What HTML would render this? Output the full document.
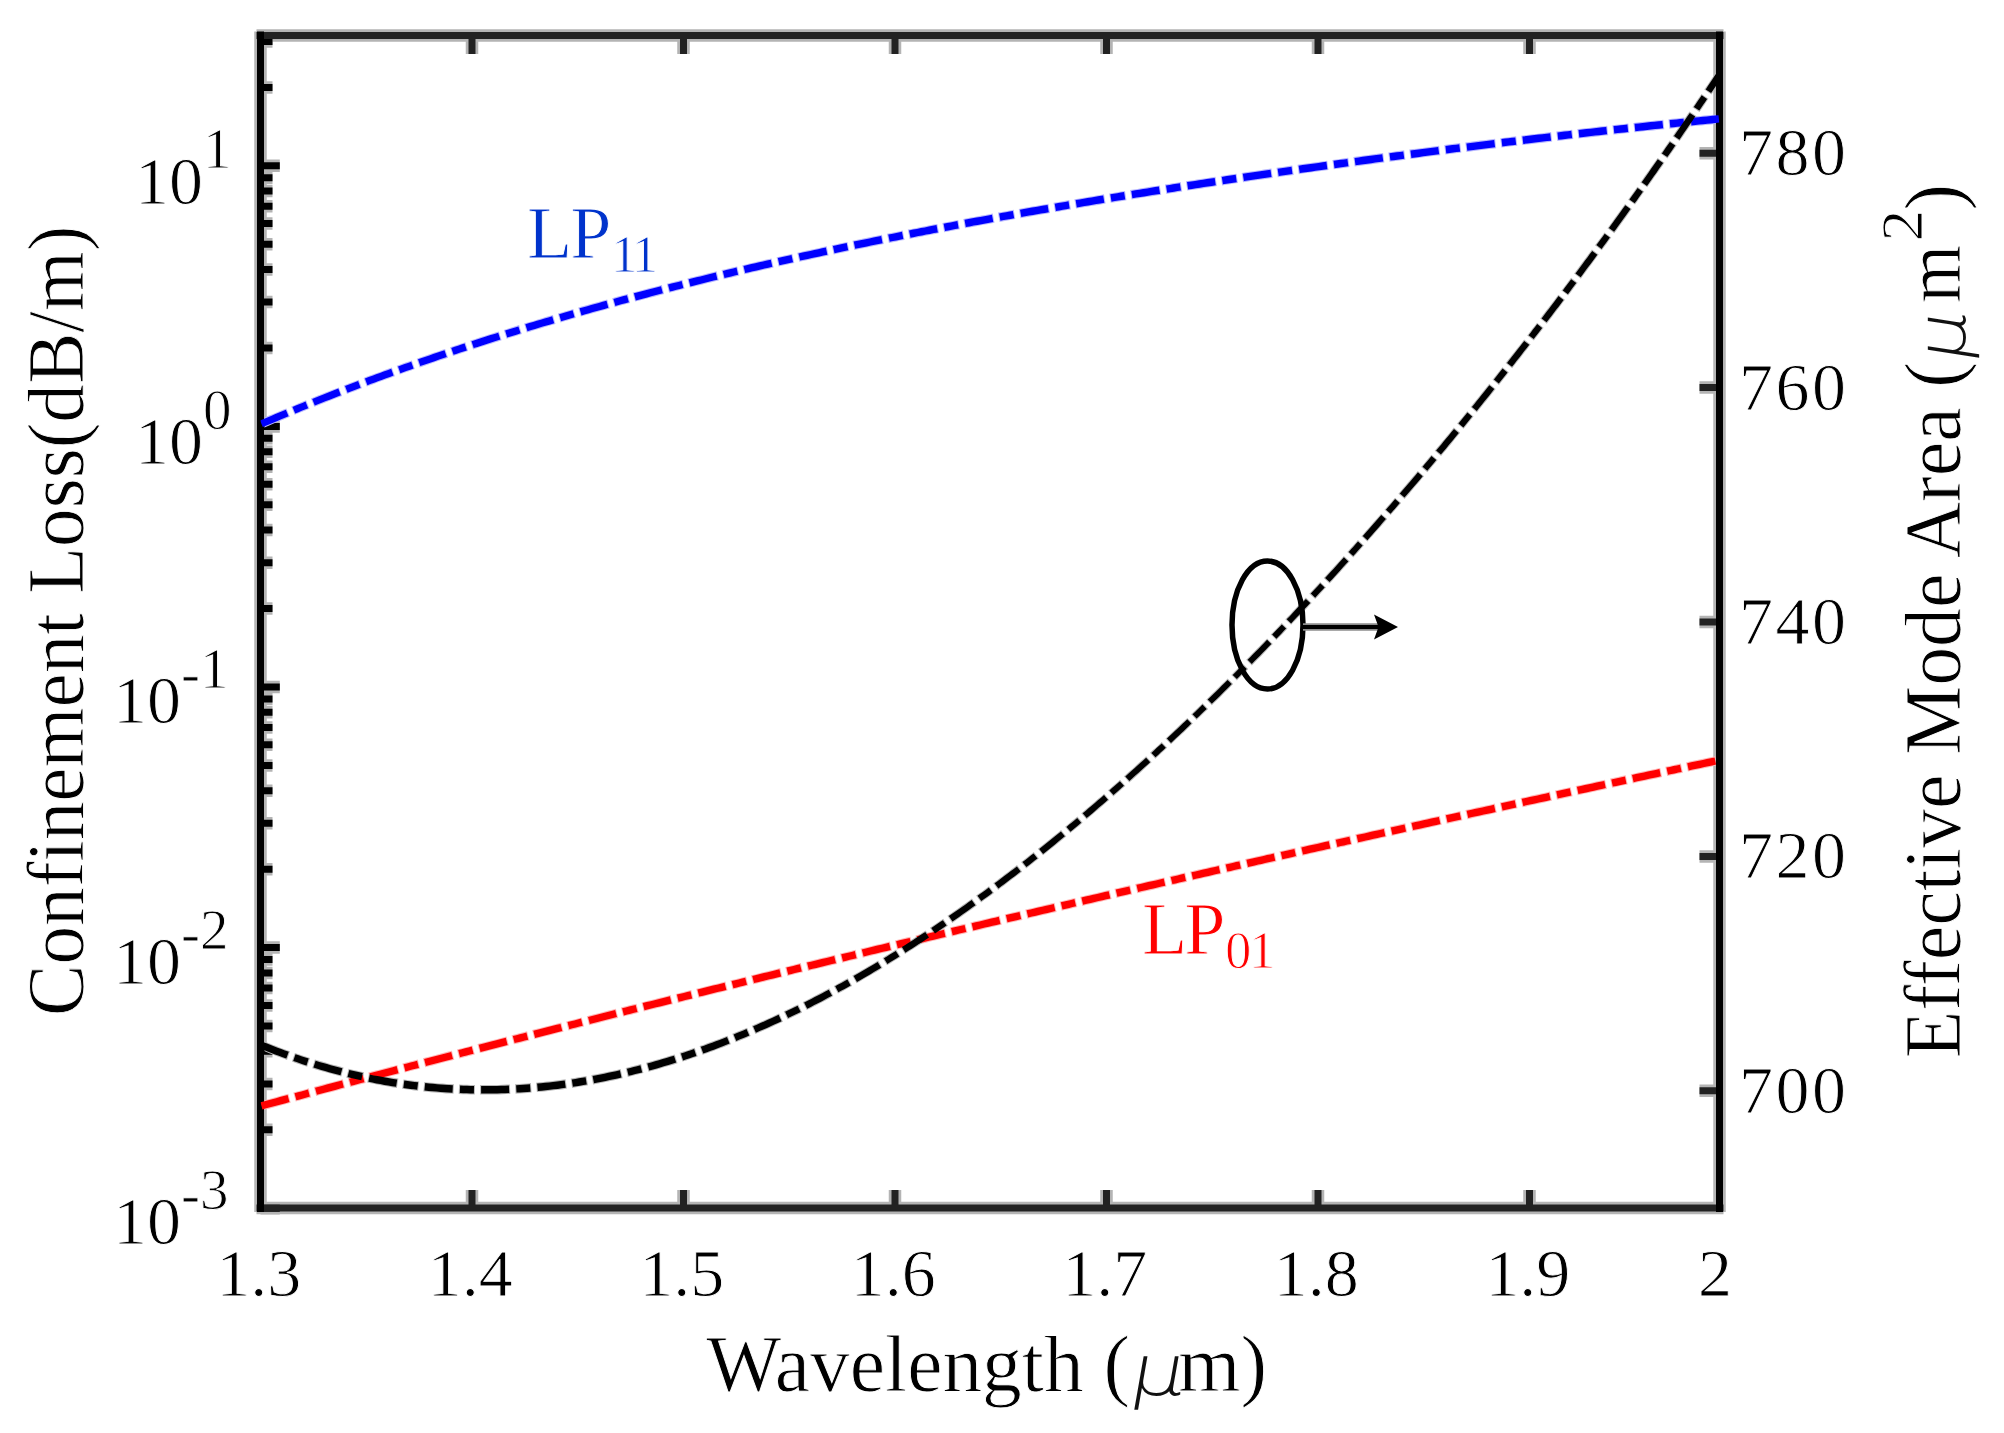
<!DOCTYPE html>
<html><head><meta charset="utf-8"><title>Confinement loss and effective mode area</title><style>
html,body{margin:0;padding:0;background:#fff;overflow:hidden}svg{display:block}
text{font-variant-ligatures:none;font-feature-settings:"liga" 0;font-family:"Liberation Serif","Times New Roman",serif;fill:#000;stroke:#fff;stroke-width:0.9px;paint-order:fill stroke}
</style></head><body>
<svg width="2004" height="1433" viewBox="0 0 2004 1433">
<rect width="2004" height="1433" fill="#fff"/>
<path d="M472.0,1208.0V1190 M472.0,35.5V54 M683.5,1208.0V1190 M683.5,35.5V54 M895.0,1208.0V1190 M895.0,35.5V54 M1106.5,1208.0V1190 M1106.5,35.5V54 M1318.0,1208.0V1190 M1318.0,35.5V54 M1529.5,1208.0V1190 M1529.5,35.5V54" stroke="#b4b4b4" stroke-width="12.5" fill="none"/>
<path d="M260.5,1208.2H279.8 M260.5,1129.8H272.5 M260.5,1083.9H272.5 M260.5,1051.3H272.5 M260.5,1026.0H272.5 M260.5,1005.4H272.5 M260.5,988.0H272.5 M260.5,972.9H272.5 M260.5,959.5H272.5 M260.5,947.6H279.8 M260.5,869.2H272.5 M260.5,823.3H272.5 M260.5,790.7H272.5 M260.5,765.4H272.5 M260.5,744.8H272.5 M260.5,727.4H272.5 M260.5,712.3H272.5 M260.5,698.9H272.5 M260.5,687.0H279.8 M260.5,608.6H272.5 M260.5,562.7H272.5 M260.5,530.1H272.5 M260.5,504.8H272.5 M260.5,484.2H272.5 M260.5,466.8H272.5 M260.5,451.7H272.5 M260.5,438.3H272.5 M260.5,426.4H279.8 M260.5,348.0H272.5 M260.5,302.1H272.5 M260.5,269.5H272.5 M260.5,244.2H272.5 M260.5,223.6H272.5 M260.5,206.2H272.5 M260.5,191.1H272.5 M260.5,177.7H272.5 M260.5,165.8H279.8 M260.5,87.4H272.5 M260.5,41.5H272.5" stroke="#b4b4b4" stroke-width="12.5" fill="none"/>
<path d="M1719.5,1090.8H1699.5 M1719.5,856.4H1699.5 M1719.5,622.0H1699.5 M1719.5,387.6H1699.5 M1719.5,153.2H1699.5" stroke="#b4b4b4" stroke-width="12.5" fill="none"/>
<path d="M256.5,35.5H1723.5M256.5,1208.0H1723.5" stroke="#b4b4b4" stroke-width="12.5" fill="none"/>
<path d="M260.5,31.5V1212.0M1719.5,31.5V1212.0" stroke="#b4b4b4" stroke-width="12.5" fill="none"/>
<path d="M472.0,1208.0V1190 M472.0,35.5V54 M683.5,1208.0V1190 M683.5,35.5V54 M895.0,1208.0V1190 M895.0,35.5V54 M1106.5,1208.0V1190 M1106.5,35.5V54 M1318.0,1208.0V1190 M1318.0,35.5V54 M1529.5,1208.0V1190 M1529.5,35.5V54" stroke="#222" stroke-width="7" fill="none"/>
<path d="M260.5,1208.2H279.8 M260.5,1129.8H272.5 M260.5,1083.9H272.5 M260.5,1051.3H272.5 M260.5,1026.0H272.5 M260.5,1005.4H272.5 M260.5,988.0H272.5 M260.5,972.9H272.5 M260.5,959.5H272.5 M260.5,947.6H279.8 M260.5,869.2H272.5 M260.5,823.3H272.5 M260.5,790.7H272.5 M260.5,765.4H272.5 M260.5,744.8H272.5 M260.5,727.4H272.5 M260.5,712.3H272.5 M260.5,698.9H272.5 M260.5,687.0H279.8 M260.5,608.6H272.5 M260.5,562.7H272.5 M260.5,530.1H272.5 M260.5,504.8H272.5 M260.5,484.2H272.5 M260.5,466.8H272.5 M260.5,451.7H272.5 M260.5,438.3H272.5 M260.5,426.4H279.8 M260.5,348.0H272.5 M260.5,302.1H272.5 M260.5,269.5H272.5 M260.5,244.2H272.5 M260.5,223.6H272.5 M260.5,206.2H272.5 M260.5,191.1H272.5 M260.5,177.7H272.5 M260.5,165.8H279.8 M260.5,87.4H272.5 M260.5,41.5H272.5" stroke="#000" stroke-width="7" fill="none"/>
<path d="M1719.5,1090.8H1699.5 M1719.5,856.4H1699.5 M1719.5,622.0H1699.5 M1719.5,387.6H1699.5 M1719.5,153.2H1699.5" stroke="#222" stroke-width="7" fill="none"/>
<path d="M256.5,35.5H1723.5M256.5,1208.0H1723.5" stroke="#222" stroke-width="7" fill="none"/>
<path d="M260.5,31.5V1212.0M1719.5,31.5V1212.0" stroke="#000" stroke-width="7" fill="none"/>
<defs><clipPath id="cin"><rect x="264.5" y="0" width="1451.0" height="1433"/></clipPath><clipPath id="cax"><rect x="260.5" y="0" width="1459.0" height="1433"/></clipPath></defs>
<g clip-path="url(#cin)">
<path d="M261.7,1110.6 265.3,1109.6 269.0,1108.7 272.6,1107.7 276.2,1106.7 279.8,1105.7 283.4,1104.8 287.1,1103.8 290.7,1102.8 288.3,1093.8 284.6,1094.8 281.0,1095.8 277.4,1096.7 273.8,1097.7 270.2,1098.7 266.5,1099.7 262.9,1100.6 259.3,1101.6ZM295.7,1101.5 299.6,1100.4 303.4,1099.4 307.3,1098.4 311.2,1097.4 308.8,1088.3 304.9,1089.4 301.0,1090.4 297.2,1091.4 293.3,1092.5ZM316.2,1096.0 319.8,1095.0 323.4,1094.1 327.0,1093.1 330.7,1092.2 334.3,1091.2 337.9,1090.2 341.5,1089.3 345.2,1088.3 342.8,1079.3 339.2,1080.3 335.5,1081.2 331.9,1082.2 328.3,1083.1 324.7,1084.1 321.0,1085.1 317.4,1086.0 313.8,1087.0ZM350.2,1087.0 354.1,1086.0 357.9,1084.9 361.8,1083.9 365.7,1082.9 363.3,1073.9 359.4,1074.9 355.5,1075.9 351.7,1076.9 347.8,1078.0ZM370.7,1081.6 374.3,1080.6 377.9,1079.7 381.6,1078.7 385.2,1077.8 388.8,1076.8 392.4,1075.8 396.1,1074.9 399.7,1073.9 397.3,1064.9 393.7,1065.9 390.1,1066.8 386.4,1067.8 382.8,1068.7 379.2,1069.7 375.6,1070.6 371.9,1071.6 368.3,1072.6ZM404.7,1072.6 408.6,1071.6 412.5,1070.6 416.3,1069.6 420.2,1068.6 417.8,1059.6 414.0,1060.6 410.1,1061.6 406.2,1062.6 402.4,1063.6ZM425.2,1067.3 428.9,1066.3 432.5,1065.4 436.1,1064.4 439.7,1063.5 443.4,1062.5 447.0,1061.6 450.6,1060.7 454.3,1059.7 451.9,1050.7 448.3,1051.6 444.7,1052.6 441.0,1053.5 437.4,1054.5 433.8,1055.4 430.1,1056.4 426.5,1057.3 422.9,1058.2ZM459.3,1058.4 463.2,1057.4 467.0,1056.4 470.9,1055.4 474.8,1054.4 472.4,1045.4 468.6,1046.4 464.7,1047.4 460.8,1048.4 456.9,1049.4ZM479.8,1053.1 483.4,1052.2 487.1,1051.2 490.7,1050.3 494.3,1049.4 498.0,1048.4 501.6,1047.5 505.2,1046.6 508.9,1045.6 506.5,1036.6 502.9,1037.5 499.3,1038.5 495.6,1039.4 492.0,1040.3 488.4,1041.3 484.7,1042.2 481.1,1043.1 477.5,1044.1ZM513.9,1044.3 517.8,1043.4 521.6,1042.4 525.5,1041.4 529.4,1040.4 527.1,1031.3 523.2,1032.3 519.3,1033.3 515.5,1034.3 511.6,1035.3ZM534.4,1039.1 538.1,1038.2 541.7,1037.2 545.3,1036.3 549.0,1035.4 552.6,1034.5 556.2,1033.5 559.9,1032.6 563.5,1031.7 561.2,1022.6 557.6,1023.6 553.9,1024.5 550.3,1025.4 546.7,1026.3 543.0,1027.3 539.4,1028.2 535.8,1029.1 532.1,1030.0ZM568.5,1030.4 572.4,1029.4 576.3,1028.4 580.2,1027.5 584.0,1026.5 581.7,1017.4 577.9,1018.4 574.0,1019.4 570.1,1020.4 566.2,1021.4ZM589.1,1025.2 592.7,1024.3 596.4,1023.4 600.0,1022.5 603.6,1021.5 607.3,1020.6 610.9,1019.7 614.5,1018.8 618.2,1017.9 615.9,1008.8 612.2,1009.7 608.6,1010.6 605.0,1011.6 601.3,1012.5 597.7,1013.4 594.1,1014.3 590.4,1015.2 586.8,1016.2ZM623.2,1016.6 627.1,1015.6 631.0,1014.7 634.8,1013.7 638.7,1012.7 636.5,1003.7 632.6,1004.6 628.7,1005.6 624.8,1006.6 620.9,1007.5ZM643.8,1011.5 647.4,1010.5 651.0,1009.6 654.7,1008.7 658.3,1007.8 662.0,1006.9 665.6,1006.0 669.2,1005.1 672.9,1004.2 670.6,995.1 667.0,996.0 663.3,996.9 659.7,997.8 656.1,998.8 652.4,999.7 648.8,1000.6 645.1,1001.5 641.5,1002.4ZM677.9,1002.9 681.8,1002.0 685.7,1001.0 689.6,1000.0 693.4,999.1 691.2,990.0 687.3,991.0 683.4,991.9 679.5,992.9 675.7,993.9ZM698.5,997.8 702.1,996.9 705.8,996.0 709.4,995.1 713.0,994.2 716.7,993.3 720.3,992.4 724.0,991.5 727.6,990.6 725.4,981.6 721.7,982.5 718.1,983.4 714.4,984.3 710.8,985.2 707.2,986.1 703.5,987.0 699.9,987.9 696.2,988.8ZM732.7,989.4 736.5,988.4 740.4,987.5 744.3,986.5 748.2,985.6 746.0,976.5 742.1,977.5 738.2,978.4 734.3,979.4 730.4,980.3ZM753.2,984.3 756.9,983.4 760.5,982.6 764.2,981.7 767.8,980.8 771.4,979.9 775.1,979.0 778.7,978.1 782.4,977.2 780.2,968.1 776.5,969.0 772.9,969.9 769.2,970.8 765.6,971.7 761.9,972.6 758.3,973.5 754.7,974.4 751.0,975.3ZM787.4,976.0 791.3,975.0 795.2,974.1 799.1,973.1 803.0,972.2 800.8,963.1 796.9,964.1 793.0,965.0 789.1,965.9 785.2,966.9ZM808.0,971.0 811.7,970.1 815.3,969.2 818.9,968.3 822.6,967.4 826.2,966.6 829.9,965.7 833.5,964.8 837.2,963.9 835.0,954.8 831.3,955.7 827.7,956.6 824.0,957.5 820.4,958.3 816.7,959.2 813.1,960.1 809.5,961.0 805.8,961.9ZM842.2,962.7 846.1,961.7 850.0,960.8 853.9,959.9 857.8,958.9 855.6,949.8 851.7,950.8 847.8,951.7 843.9,952.7 840.0,953.6ZM862.8,957.7 866.5,956.8 870.1,956.0 873.8,955.1 877.4,954.2 881.1,953.3 884.7,952.5 888.4,951.6 892.0,950.7 889.8,941.6 886.2,942.5 882.5,943.4 878.9,944.2 875.2,945.1 871.6,946.0 867.9,946.9 864.3,947.8 860.6,948.6ZM897.1,949.5 900.9,948.6 904.8,947.7 908.7,946.7 912.6,945.8 910.4,936.7 906.6,937.6 902.7,938.6 898.8,939.5 894.9,940.4ZM917.7,944.6 921.3,943.7 925.0,942.9 928.6,942.0 932.3,941.1 935.9,940.3 939.6,939.4 943.2,938.5 946.9,937.7 944.7,928.6 941.0,929.4 937.4,930.3 933.7,931.2 930.1,932.0 926.4,932.9 922.8,933.8 919.1,934.6 915.5,935.5ZM951.9,936.5 955.8,935.5 959.7,934.6 963.6,933.7 967.5,932.8 965.3,923.7 961.4,924.6 957.5,925.5 953.6,926.4 949.8,927.4ZM972.5,931.6 976.2,930.7 979.8,929.9 983.5,929.0 987.1,928.1 990.8,927.3 994.4,926.4 998.1,925.6 1001.7,924.7 999.6,915.6 995.9,916.5 992.3,917.3 988.6,918.2 985.0,919.0 981.3,919.9 977.7,920.7 974.0,921.6 970.4,922.5ZM1006.8,923.5 1010.7,922.6 1014.6,921.7 1018.5,920.8 1022.4,919.9 1020.2,910.7 1016.3,911.7 1012.4,912.6 1008.6,913.5 1004.7,914.4ZM1027.4,918.7 1031.1,917.8 1034.7,917.0 1038.4,916.1 1042.0,915.3 1045.7,914.4 1049.3,913.6 1053.0,912.7 1056.6,911.9 1054.5,902.7 1050.9,903.6 1047.2,904.4 1043.6,905.3 1039.9,906.2 1036.3,907.0 1032.6,907.9 1029.0,908.7 1025.3,909.6ZM1061.7,910.7 1065.6,909.8 1069.5,908.9 1073.4,908.0 1077.3,907.1 1075.2,897.9 1071.3,898.8 1067.4,899.8 1063.5,900.7 1059.6,901.6ZM1082.4,905.9 1086.0,905.0 1089.7,904.2 1093.3,903.4 1097.0,902.5 1100.6,901.7 1104.3,900.8 1107.9,900.0 1111.6,899.1 1109.5,890.0 1105.8,890.8 1102.2,891.7 1098.5,892.5 1094.9,893.4 1091.2,894.2 1087.5,895.1 1083.9,895.9 1080.2,896.8ZM1116.6,898.0 1120.5,897.1 1124.4,896.2 1128.3,895.3 1132.2,894.4 1130.1,885.2 1126.2,886.1 1122.3,887.0 1118.4,887.9 1114.5,888.8ZM1137.3,893.2 1141.0,892.4 1144.6,891.5 1148.3,890.7 1151.9,889.9 1155.6,889.0 1159.2,888.2 1162.9,887.3 1166.5,886.5 1164.4,877.4 1160.8,878.2 1157.1,879.0 1153.5,879.9 1149.8,880.7 1146.2,881.6 1142.5,882.4 1138.9,883.2 1135.2,884.1ZM1171.6,885.3 1175.5,884.5 1179.4,883.6 1183.3,882.7 1187.2,881.8 1185.1,872.6 1181.2,873.5 1177.3,874.4 1173.4,875.3 1169.5,876.2ZM1192.3,880.6 1195.9,879.8 1199.6,879.0 1203.2,878.1 1206.9,877.3 1210.6,876.5 1214.2,875.6 1217.9,874.8 1221.5,874.0 1219.4,864.8 1215.8,865.7 1212.1,866.5 1208.5,867.3 1204.8,868.2 1201.2,869.0 1197.5,869.8 1193.8,870.7 1190.2,871.5ZM1226.6,872.8 1230.5,871.9 1234.4,871.1 1238.3,870.2 1242.2,869.3 1240.1,860.2 1236.2,861.0 1232.3,861.9 1228.4,862.8 1224.5,863.7ZM1247.3,868.1 1250.9,867.3 1254.6,866.5 1258.2,865.7 1261.9,864.8 1265.6,864.0 1269.2,863.2 1272.9,862.4 1276.5,861.6 1274.5,852.4 1270.8,853.2 1267.2,854.1 1263.5,854.9 1259.8,855.7 1256.2,856.5 1252.5,857.4 1248.9,858.2 1245.2,859.0ZM1281.6,860.4 1285.5,859.5 1289.4,858.7 1293.3,857.8 1297.2,856.9 1295.2,847.8 1291.3,848.6 1287.3,849.5 1283.4,850.4 1279.5,851.3ZM1302.3,855.8 1305.9,854.9 1309.6,854.1 1313.3,853.3 1316.9,852.5 1320.6,851.7 1324.2,850.9 1327.9,850.0 1331.6,849.2 1329.5,840.1 1325.9,840.9 1322.2,841.7 1318.5,842.5 1314.9,843.3 1311.2,844.2 1307.6,845.0 1303.9,845.8 1300.2,846.6ZM1336.6,848.1 1340.5,847.2 1344.4,846.4 1348.3,845.5 1352.2,844.6 1350.2,835.5 1346.3,836.3 1342.4,837.2 1338.5,838.1 1334.6,838.9ZM1357.3,843.5 1361.0,842.7 1364.6,841.9 1368.3,841.0 1372.0,840.2 1375.6,839.4 1379.3,838.6 1382.9,837.8 1386.6,837.0 1384.6,827.8 1380.9,828.6 1377.3,829.5 1373.6,830.3 1369.9,831.1 1366.3,831.9 1362.6,832.7 1358.9,833.5 1355.3,834.3ZM1391.7,835.9 1395.6,835.0 1399.5,834.1 1403.4,833.3 1407.3,832.4 1405.3,823.3 1401.4,824.1 1397.5,825.0 1393.6,825.8 1389.7,826.7ZM1412.4,831.3 1416.0,830.5 1419.7,829.7 1423.4,828.9 1427.0,828.1 1430.7,827.3 1434.3,826.5 1438.0,825.6 1441.7,824.8 1439.7,815.7 1436.0,816.5 1432.3,817.3 1428.7,818.1 1425.0,818.9 1421.3,819.7 1417.7,820.5 1414.0,821.3 1410.4,822.1ZM1446.7,823.7 1450.7,822.9 1454.6,822.0 1458.5,821.2 1462.4,820.3 1460.4,811.1 1456.5,812.0 1452.6,812.9 1448.6,813.7 1444.7,814.6ZM1467.5,819.2 1471.1,818.4 1474.8,817.6 1478.4,816.8 1482.1,816.0 1485.8,815.2 1489.4,814.4 1493.1,813.6 1496.8,812.8 1494.8,803.6 1491.1,804.4 1487.4,805.2 1483.8,806.0 1480.1,806.8 1476.4,807.6 1472.8,808.4 1469.1,809.2 1465.4,810.0ZM1501.8,811.7 1505.7,810.8 1509.7,810.0 1513.6,809.1 1517.5,808.3 1515.5,799.1 1511.6,800.0 1507.7,800.8 1503.8,801.7 1499.8,802.5ZM1522.6,807.2 1526.2,806.4 1529.9,805.6 1533.5,804.8 1537.2,804.0 1540.9,803.2 1544.5,802.4 1548.2,801.6 1551.9,800.8 1549.9,791.6 1546.2,792.4 1542.5,793.2 1538.9,794.0 1535.2,794.8 1531.6,795.6 1527.9,796.4 1524.2,797.2 1520.6,798.0ZM1556.9,799.7 1560.9,798.9 1564.8,798.0 1568.7,797.2 1572.6,796.3 1570.6,787.2 1566.7,788.0 1562.8,788.8 1558.9,789.7 1555.0,790.5ZM1577.7,795.2 1581.3,794.4 1585.0,793.6 1588.7,792.9 1592.3,792.1 1596.0,791.3 1599.7,790.5 1603.3,789.7 1607.0,788.9 1605.0,779.7 1601.4,780.5 1597.7,781.3 1594.0,782.1 1590.4,782.9 1586.7,783.7 1583.0,784.5 1579.4,785.3 1575.7,786.1ZM1612.1,787.8 1616.0,787.0 1619.9,786.1 1623.8,785.3 1627.7,784.5 1625.7,775.3 1621.8,776.1 1617.9,777.0 1614.0,777.8 1610.1,778.6ZM1632.8,783.4 1636.5,782.6 1640.1,781.8 1643.8,781.0 1647.5,780.2 1651.1,779.4 1654.8,778.7 1658.5,777.9 1662.1,777.1 1660.2,767.9 1656.5,768.7 1652.8,769.5 1649.2,770.3 1645.5,771.1 1641.8,771.8 1638.2,772.6 1634.5,773.4 1630.8,774.2ZM1667.2,776.0 1671.1,775.2 1675.0,774.3 1679.0,773.5 1682.9,772.7 1680.9,763.5 1677.0,764.3 1673.1,765.2 1669.2,766.0 1665.3,766.8ZM1687.9,771.6 1691.6,770.8 1695.3,770.0 1699.0,769.2 1702.6,768.5 1706.3,767.7 1710.0,766.9 1713.6,766.1 1717.3,765.4 1715.3,756.2 1711.7,757.0 1708.0,757.7 1704.3,758.5 1700.7,759.3 1697.0,760.1 1693.3,760.8 1689.7,761.6 1686.0,762.4Z" fill="#ffb8b8"/>
<path d="M262.3,428.4 265.7,426.9 269.2,425.5 272.6,424.0 276.1,422.5 279.5,421.1 283.0,419.7 286.4,418.2 289.9,416.8 286.4,408.4 282.9,409.8 279.5,411.3 276.0,412.7 272.5,414.2 269.1,415.6 265.6,417.1 262.2,418.6 258.7,420.1ZM294.7,414.8 298.4,413.3 302.1,411.8 305.8,410.3 309.5,408.8 306.1,400.3 302.3,401.8 298.6,403.3 294.9,404.9 291.2,406.4ZM314.3,406.8 317.8,405.5 321.2,404.1 324.7,402.7 328.2,401.3 331.7,399.9 335.2,398.6 338.7,397.2 342.1,395.9 338.8,387.4 335.3,388.7 331.8,390.1 328.3,391.4 324.9,392.8 321.4,394.2 317.9,395.6 314.4,397.0 310.9,398.4ZM347.0,394.0 350.7,392.6 354.5,391.2 358.2,389.8 361.9,388.3 358.7,379.8 354.9,381.2 351.2,382.6 347.5,384.0 343.7,385.5ZM366.8,386.5 370.3,385.2 373.8,383.9 377.3,382.6 380.8,381.3 384.3,380.0 387.9,378.7 391.4,377.5 394.9,376.2 391.8,367.6 388.2,368.8 384.7,370.1 381.2,371.4 377.7,372.7 374.1,374.0 370.6,375.3 367.1,376.6 363.6,377.9ZM399.8,374.4 403.5,373.1 407.3,371.8 411.1,370.4 414.8,369.1 411.8,360.4 408.0,361.8 404.2,363.1 400.4,364.4 396.7,365.8ZM419.7,367.4 423.3,366.2 426.8,364.9 430.3,363.7 433.9,362.5 437.4,361.3 441.0,360.1 444.5,358.9 448.1,357.7 445.1,348.9 441.6,350.1 438.0,351.4 434.4,352.6 430.9,353.8 427.3,355.0 423.8,356.2 420.2,357.5 416.7,358.7ZM453.0,356.0 456.8,354.8 460.6,353.5 464.3,352.3 468.1,351.0 465.3,342.2 461.5,343.5 457.7,344.7 453.9,346.0 450.1,347.3ZM473.1,349.4 476.6,348.2 480.2,347.1 483.8,345.9 487.3,344.8 490.9,343.7 494.5,342.5 498.0,341.4 501.6,340.3 498.8,331.4 495.2,332.6 491.7,333.7 488.1,334.8 484.5,336.0 480.9,337.1 477.4,338.3 473.8,339.5 470.2,340.6ZM506.6,338.7 510.4,337.5 514.2,336.4 518.0,335.2 521.8,334.0 519.1,325.1 515.3,326.3 511.4,327.5 507.6,328.7 503.8,329.9ZM526.8,332.5 530.4,331.4 534.0,330.3 537.5,329.2 541.1,328.2 544.7,327.1 548.3,326.0 551.9,325.0 555.5,323.9 552.9,315.0 549.3,316.1 545.7,317.1 542.1,318.2 538.5,319.3 534.9,320.4 531.3,321.4 527.7,322.5 524.1,323.6ZM560.5,322.5 564.3,321.3 568.1,320.2 572.0,319.1 575.8,318.0 573.3,309.1 569.4,310.2 565.6,311.3 561.7,312.4 557.9,313.5ZM580.8,316.6 584.4,315.6 588.0,314.6 591.6,313.5 595.2,312.5 598.8,311.5 602.4,310.5 606.1,309.5 609.7,308.5 607.2,299.5 603.6,300.5 600.0,301.5 596.3,302.6 592.7,303.6 589.1,304.6 585.5,305.6 581.9,306.6 578.3,307.6ZM614.7,307.2 618.5,306.1 622.4,305.1 626.2,304.0 630.1,303.0 627.7,294.0 623.8,295.0 619.9,296.1 616.1,297.1 612.2,298.2ZM635.1,301.6 638.7,300.7 642.4,299.7 646.0,298.8 649.6,297.8 653.2,296.9 656.8,295.9 660.5,295.0 664.1,294.1 661.8,285.0 658.1,286.0 654.5,286.9 650.9,287.8 647.2,288.8 643.6,289.8 640.0,290.7 636.3,291.7 632.7,292.6ZM669.1,292.8 673.0,291.8 676.9,290.8 680.7,289.8 684.6,288.8 682.3,279.8 678.5,280.8 674.6,281.7 670.7,282.7 666.8,283.7ZM689.7,287.6 693.3,286.7 696.9,285.8 700.6,284.9 704.2,284.0 707.8,283.1 711.5,282.2 715.1,281.3 718.8,280.4 716.6,271.3 712.9,272.2 709.3,273.1 705.6,274.0 702.0,274.9 698.3,275.8 694.7,276.7 691.0,277.6 687.4,278.5ZM723.8,279.2 727.7,278.3 731.6,277.4 735.5,276.4 739.4,275.5 737.2,266.4 733.3,267.3 729.4,268.3 725.5,269.2 721.6,270.1ZM744.4,274.3 748.1,273.5 751.7,272.6 755.4,271.8 759.0,270.9 762.7,270.1 766.3,269.3 770.0,268.4 773.6,267.6 771.5,258.5 767.9,259.3 764.2,260.1 760.6,261.0 756.9,261.8 753.2,262.7 749.6,263.5 745.9,264.4 742.3,265.2ZM778.7,266.4 782.6,265.6 786.5,264.7 790.4,263.8 794.3,263.0 792.2,253.8 788.3,254.7 784.4,255.6 780.5,256.4 776.6,257.3ZM799.3,261.8 803.0,261.0 806.7,260.2 810.3,259.4 814.0,258.6 817.6,257.8 821.3,257.0 825.0,256.3 828.6,255.5 826.7,246.3 823.0,247.1 819.3,247.9 815.7,248.7 812.0,249.5 808.3,250.3 804.7,251.1 801.0,251.9 797.3,252.7ZM833.7,254.4 837.6,253.6 841.5,252.7 845.4,251.9 849.3,251.1 847.4,241.9 843.5,242.7 839.6,243.6 835.7,244.4 831.8,245.2ZM854.4,250.0 858.1,249.3 861.8,248.5 865.4,247.8 869.1,247.0 872.8,246.2 876.5,245.5 880.1,244.8 883.8,244.0 881.9,234.8 878.3,235.5 874.6,236.3 870.9,237.0 867.2,237.8 863.5,238.6 859.9,239.3 856.2,240.1 852.5,240.8ZM888.9,243.0 892.8,242.2 896.7,241.4 900.6,240.6 904.6,239.9 902.7,230.6 898.8,231.4 894.9,232.2 891.0,233.0 887.0,233.8ZM909.7,238.9 913.3,238.1 917.0,237.4 920.7,236.7 924.4,236.0 928.1,235.3 931.7,234.6 935.4,233.9 939.1,233.1 937.3,223.9 933.6,224.6 930.0,225.3 926.3,226.0 922.6,226.8 918.9,227.5 915.2,228.2 911.5,228.9 907.8,229.6ZM944.2,232.2 948.1,231.4 952.0,230.7 956.0,229.9 959.9,229.2 958.2,220.0 954.2,220.7 950.3,221.4 946.4,222.2 942.4,222.9ZM965.0,228.3 968.7,227.6 972.4,226.9 976.1,226.2 979.7,225.5 983.4,224.8 987.1,224.2 990.8,223.5 994.5,222.8 992.8,213.6 989.1,214.2 985.4,214.9 981.7,215.6 978.0,216.3 974.4,216.9 970.7,217.6 967.0,218.3 963.3,219.0ZM999.6,221.9 1003.5,221.2 1007.5,220.5 1011.4,219.8 1015.3,219.1 1013.7,209.8 1009.8,210.5 1005.8,211.2 1001.9,211.9 997.9,212.6ZM1020.5,218.2 1024.1,217.5 1027.8,216.9 1031.5,216.2 1035.2,215.6 1038.9,214.9 1042.6,214.3 1046.3,213.7 1050.0,213.0 1048.4,203.7 1044.7,204.4 1041.0,205.0 1037.3,205.7 1033.6,206.3 1029.9,206.9 1026.2,207.6 1022.5,208.2 1018.8,208.9ZM1055.1,212.1 1059.1,211.5 1063.0,210.8 1066.9,210.1 1070.9,209.4 1069.3,200.1 1065.4,200.8 1061.4,201.5 1057.5,202.2 1053.5,202.8ZM1076.0,208.6 1079.7,208.0 1083.4,207.3 1087.1,206.7 1090.8,206.1 1094.5,205.5 1098.2,204.9 1101.9,204.3 1105.6,203.6 1104.0,194.3 1100.3,195.0 1096.6,195.6 1092.9,196.2 1089.2,196.8 1085.5,197.4 1081.8,198.0 1078.1,198.7 1074.4,199.3ZM1110.7,202.8 1114.6,202.2 1118.6,201.5 1122.5,200.9 1126.5,200.2 1125.0,190.9 1121.0,191.6 1117.1,192.2 1113.1,192.9 1109.2,193.5ZM1131.6,199.4 1135.3,198.8 1139.0,198.2 1142.7,197.6 1146.4,197.0 1150.1,196.4 1153.8,195.9 1157.5,195.3 1161.2,194.7 1159.8,185.4 1156.0,186.0 1152.3,186.5 1148.6,187.1 1144.9,187.7 1141.2,188.3 1137.5,188.9 1133.8,189.5 1130.1,190.1ZM1166.4,193.9 1170.3,193.3 1174.3,192.7 1178.2,192.0 1182.2,191.4 1180.7,182.1 1176.8,182.7 1172.8,183.3 1168.8,183.9 1164.9,184.6ZM1187.3,190.6 1191.0,190.1 1194.7,189.5 1198.4,188.9 1202.1,188.4 1205.8,187.8 1209.5,187.2 1213.2,186.7 1216.9,186.1 1215.5,176.8 1211.8,177.3 1208.1,177.9 1204.4,178.5 1200.7,179.0 1197.0,179.6 1193.3,180.2 1189.6,180.7 1185.9,181.3ZM1222.1,185.4 1226.0,184.8 1230.0,184.2 1233.9,183.6 1237.9,183.0 1236.5,173.7 1232.5,174.2 1228.6,174.8 1224.6,175.4 1220.7,176.0ZM1243.0,182.2 1246.7,181.7 1250.4,181.1 1254.2,180.6 1257.9,180.1 1261.6,179.5 1265.3,179.0 1269.0,178.4 1272.7,177.9 1271.4,168.6 1267.6,169.1 1263.9,169.6 1260.2,170.2 1256.5,170.7 1252.8,171.3 1249.1,171.8 1245.4,172.3 1241.7,172.9ZM1277.8,177.2 1281.8,176.6 1285.8,176.0 1289.7,175.5 1293.7,174.9 1292.3,165.5 1288.4,166.1 1284.4,166.7 1280.5,167.2 1276.5,167.8ZM1298.8,174.2 1302.5,173.6 1306.2,173.1 1310.0,172.6 1313.7,172.1 1317.4,171.6 1321.1,171.0 1324.8,170.5 1328.5,170.0 1327.2,160.7 1323.5,161.2 1319.8,161.7 1316.1,162.2 1312.4,162.7 1308.6,163.2 1304.9,163.8 1301.2,164.3 1297.5,164.8ZM1333.7,169.3 1337.6,168.8 1341.6,168.2 1345.6,167.7 1349.5,167.1 1348.2,157.8 1344.3,158.3 1340.3,158.9 1336.3,159.4 1332.4,159.9ZM1354.7,166.4 1358.4,165.9 1362.1,165.4 1365.8,164.9 1369.5,164.4 1373.2,163.9 1377.0,163.4 1380.7,162.9 1384.4,162.4 1383.1,153.1 1379.4,153.6 1375.7,154.1 1372.0,154.6 1368.3,155.1 1364.5,155.6 1360.8,156.1 1357.1,156.6 1353.4,157.1ZM1389.5,161.8 1393.5,161.2 1397.5,160.7 1401.4,160.2 1405.4,159.7 1404.2,150.3 1400.2,150.8 1396.2,151.3 1392.3,151.9 1388.3,152.4ZM1410.5,159.0 1414.3,158.5 1418.0,158.0 1421.7,157.6 1425.4,157.1 1429.1,156.6 1432.9,156.1 1436.6,155.6 1440.3,155.2 1439.1,145.8 1435.4,146.3 1431.7,146.7 1427.9,147.2 1424.2,147.7 1420.5,148.2 1416.8,148.7 1413.0,149.1 1409.3,149.6ZM1445.4,154.5 1449.4,154.0 1453.4,153.5 1457.3,153.0 1461.3,152.5 1460.1,143.1 1456.2,143.6 1452.2,144.1 1448.2,144.6 1444.3,145.1ZM1466.5,151.9 1470.2,151.4 1473.9,151.0 1477.6,150.5 1481.3,150.0 1485.1,149.6 1488.8,149.1 1492.5,148.7 1496.2,148.2 1495.1,138.8 1491.4,139.3 1487.6,139.7 1483.9,140.2 1480.2,140.6 1476.5,141.1 1472.7,141.6 1469.0,142.0 1465.3,142.5ZM1501.4,147.6 1505.4,147.1 1509.3,146.6 1513.3,146.1 1517.3,145.7 1516.1,136.3 1512.2,136.8 1508.2,137.2 1504.2,137.7 1500.3,138.2ZM1522.4,145.1 1526.2,144.6 1529.9,144.2 1533.6,143.7 1537.3,143.3 1541.0,142.9 1544.8,142.4 1548.5,142.0 1552.2,141.5 1551.1,132.1 1547.4,132.6 1543.7,133.0 1539.9,133.5 1536.2,133.9 1532.5,134.3 1528.8,134.8 1525.0,135.2 1521.3,135.7ZM1557.4,140.9 1561.3,140.5 1565.3,140.0 1569.3,139.6 1573.3,139.1 1572.2,129.7 1568.2,130.2 1564.2,130.6 1560.3,131.1 1556.3,131.5ZM1578.4,138.5 1582.1,138.1 1585.9,137.7 1589.6,137.3 1593.3,136.9 1597.0,136.4 1600.8,136.0 1604.5,135.6 1608.2,135.2 1607.2,125.8 1603.5,126.2 1599.7,126.6 1596.0,127.0 1592.3,127.5 1588.5,127.9 1584.8,128.3 1581.1,128.7 1577.4,129.1ZM1613.4,134.6 1617.4,134.2 1621.3,133.8 1625.3,133.3 1629.3,132.9 1628.3,123.5 1624.3,123.9 1620.3,124.4 1616.3,124.8 1612.4,125.2ZM1634.5,132.3 1638.2,131.9 1641.9,131.5 1645.6,131.1 1649.4,130.8 1653.1,130.4 1656.8,130.0 1660.5,129.6 1664.3,129.2 1663.3,119.8 1659.6,120.2 1655.8,120.5 1652.1,120.9 1648.4,121.3 1644.6,121.7 1640.9,122.1 1637.2,122.5 1633.4,122.9ZM1669.4,128.7 1673.4,128.2 1677.4,127.8 1681.4,127.4 1685.3,127.0 1684.4,117.6 1680.4,118.0 1676.4,118.4 1672.4,118.8 1668.5,119.2ZM1690.5,126.5 1694.2,126.1 1697.9,125.8 1701.6,125.4 1705.2,125.0 1708.9,124.7 1712.6,124.3 1716.3,123.9 1720.0,123.6 1719.0,114.1 1715.4,114.5 1711.7,114.9 1708.0,115.2 1704.3,115.6 1700.6,116.0 1696.9,116.3 1693.2,116.7 1689.6,117.1Z" fill="#b8b8ff"/>
<path d="M258.8,1049.0 262.3,1050.4 265.8,1051.8 269.3,1053.2 272.8,1054.6 276.3,1055.9 279.9,1057.3 283.4,1058.6 287.0,1059.9 290.0,1051.2 286.5,1049.9 283.0,1048.7 279.6,1047.4 276.1,1046.0 272.6,1044.7 269.1,1043.3 265.7,1042.0 262.2,1040.6ZM291.9,1061.6 295.7,1062.9 299.5,1064.2 303.3,1065.5 307.2,1066.7 310.0,1057.9 306.2,1056.7 302.4,1055.5 298.7,1054.2 294.9,1052.9ZM312.2,1068.3 315.8,1069.4 319.4,1070.5 323.0,1071.6 326.7,1072.6 330.3,1073.6 333.9,1074.6 337.6,1075.6 341.3,1076.6 343.6,1067.5 340.0,1066.6 336.4,1065.6 332.8,1064.7 329.2,1063.7 325.6,1062.6 322.0,1061.6 318.5,1060.5 314.9,1059.5ZM346.3,1077.8 350.3,1078.8 354.2,1079.7 358.1,1080.6 362.0,1081.5 364.0,1072.3 360.2,1071.5 356.3,1070.6 352.4,1069.7 348.6,1068.8ZM367.2,1082.6 370.9,1083.3 374.6,1084.1 378.3,1084.8 382.0,1085.5 385.7,1086.1 389.5,1086.8 393.2,1087.4 396.9,1088.0 398.4,1078.6 394.7,1078.1 391.0,1077.5 387.3,1076.9 383.7,1076.2 380.0,1075.5 376.4,1074.9 372.7,1074.1 369.1,1073.4ZM402.1,1088.8 406.1,1089.3 410.1,1089.8 414.1,1090.4 418.1,1090.8 419.2,1081.4 415.3,1081.0 411.3,1080.5 407.4,1079.9 403.5,1079.4ZM423.3,1091.4 427.1,1091.8 430.9,1092.2 434.6,1092.5 438.4,1092.8 442.2,1093.1 445.9,1093.4 449.7,1093.6 453.5,1093.8 454.0,1084.3 450.3,1084.1 446.6,1083.9 442.8,1083.6 439.1,1083.4 435.4,1083.0 431.7,1082.7 428.0,1082.4 424.3,1082.0ZM458.7,1094.0 462.7,1094.2 466.8,1094.3 470.8,1094.4 474.8,1094.5 475.0,1085.0 471.0,1084.9 467.1,1084.8 463.1,1084.7 459.1,1084.6ZM480.1,1094.6 483.9,1094.6 487.6,1094.6 491.4,1094.5 495.2,1094.5 499.0,1094.4 502.8,1094.3 506.5,1094.1 510.3,1094.0 509.9,1084.5 506.2,1084.6 502.5,1084.8 498.7,1084.9 495.0,1085.0 491.3,1085.0 487.6,1085.1 483.9,1085.1 480.1,1085.1ZM515.6,1093.7 519.6,1093.5 523.6,1093.2 527.6,1092.9 531.6,1092.6 530.9,1083.1 526.9,1083.4 523.0,1083.7 519.0,1084.0 515.0,1084.2ZM536.9,1092.1 540.6,1091.8 544.4,1091.4 548.2,1091.0 551.9,1090.6 555.7,1090.1 559.4,1089.7 563.2,1089.2 566.9,1088.6 565.6,1079.3 561.9,1079.8 558.2,1080.3 554.5,1080.7 550.8,1081.2 547.1,1081.6 543.4,1082.0 539.7,1082.3 536.0,1082.7ZM572.1,1087.9 576.1,1087.3 580.0,1086.6 584.0,1086.0 588.0,1085.3 586.4,1076.0 582.5,1076.7 578.5,1077.3 574.6,1078.0 570.7,1078.5ZM593.1,1084.4 596.9,1083.7 600.6,1083.0 604.3,1082.2 608.0,1081.5 611.7,1080.7 615.4,1079.9 619.0,1079.1 622.7,1078.2 620.6,1069.1 617.0,1069.9 613.4,1070.7 609.7,1071.5 606.1,1072.3 602.4,1073.0 598.8,1073.7 595.1,1074.4 591.4,1075.1ZM627.8,1077.0 631.7,1076.1 635.6,1075.1 639.5,1074.1 643.4,1073.1 641.1,1064.1 637.2,1065.1 633.4,1066.1 629.5,1067.0 625.7,1067.9ZM648.5,1071.7 652.1,1070.7 655.8,1069.7 659.4,1068.7 663.0,1067.6 666.6,1066.6 670.3,1065.5 673.9,1064.4 677.5,1063.2 674.7,1054.4 671.1,1055.5 667.6,1056.6 664.0,1057.7 660.4,1058.7 656.8,1059.8 653.2,1060.8 649.7,1061.8 646.1,1062.8ZM682.4,1061.6 686.3,1060.4 690.1,1059.1 693.9,1057.8 697.7,1056.5 694.7,1047.8 690.9,1049.1 687.2,1050.4 683.4,1051.6 679.6,1052.8ZM702.6,1054.8 706.2,1053.5 709.7,1052.2 713.3,1050.9 716.8,1049.6 720.3,1048.3 723.9,1046.9 727.4,1045.6 730.9,1044.2 727.5,1035.7 724.1,1037.1 720.6,1038.4 717.1,1039.7 713.6,1041.0 710.1,1042.3 706.6,1043.6 703.1,1044.9 699.6,1046.1ZM735.7,1042.3 739.5,1040.7 743.2,1039.2 746.9,1037.7 750.6,1036.1 747.1,1027.7 743.4,1029.3 739.7,1030.8 736.0,1032.3 732.3,1033.8ZM755.4,1034.1 758.9,1032.6 762.3,1031.0 765.8,1029.5 769.2,1028.0 772.6,1026.4 776.1,1024.8 779.5,1023.3 782.9,1021.7 779.1,1013.5 775.7,1015.1 772.3,1016.7 768.9,1018.2 765.5,1019.7 762.1,1021.3 758.7,1022.8 755.2,1024.2 751.8,1025.7ZM787.6,1019.4 791.2,1017.7 794.8,1015.9 798.5,1014.2 802.1,1012.4 798.1,1004.4 794.5,1006.1 790.9,1007.9 787.3,1009.6 783.7,1011.3ZM806.7,1010.1 810.1,1008.4 813.4,1006.7 816.8,1004.9 820.1,1003.2 823.5,1001.4 826.8,999.7 830.1,997.9 833.4,996.1 829.2,988.3 826.0,990.1 822.7,991.8 819.3,993.6 816.0,995.3 812.7,997.0 809.4,998.7 806.1,1000.4 802.7,1002.1ZM838.0,993.6 841.6,991.7 845.1,989.8 848.6,987.8 852.1,985.9 847.8,978.2 844.3,980.1 840.8,982.0 837.3,984.0 833.8,985.9ZM856.6,983.3 859.9,981.4 863.1,979.5 866.4,977.6 869.6,975.7 872.9,973.8 876.1,971.9 879.4,970.0 882.6,968.0 878.1,960.6 874.9,962.5 871.7,964.4 868.4,966.3 865.2,968.2 862.0,970.1 858.8,971.9 855.5,973.8 852.3,975.6ZM887.0,965.3 890.5,963.2 893.9,961.1 897.3,959.0 900.7,956.9 896.1,949.5 892.7,951.6 889.3,953.7 885.9,955.8 882.5,957.9ZM905.1,954.1 908.3,952.1 911.5,950.1 914.6,948.0 917.8,946.0 920.9,943.9 924.1,941.9 927.2,939.8 930.4,937.7 925.6,930.6 922.5,932.6 919.4,934.7 916.2,936.7 913.1,938.7 909.9,940.8 906.8,942.8 903.6,944.8 900.5,946.8ZM934.7,934.8 938.0,932.6 941.4,930.3 944.7,928.1 948.0,925.8 943.2,918.8 939.9,921.0 936.6,923.2 933.2,925.5 929.9,927.7ZM952.3,922.9 955.4,920.7 958.5,918.6 961.5,916.4 964.6,914.3 967.7,912.1 970.7,909.9 973.8,907.7 976.9,905.5 971.9,898.6 968.9,900.8 965.8,903.0 962.8,905.1 959.7,907.3 956.6,909.4 953.6,911.6 950.5,913.7 947.4,915.8ZM981.1,902.5 984.3,900.1 987.6,897.7 990.8,895.4 994.0,893.0 989.0,886.2 985.8,888.6 982.6,890.9 979.3,893.3 976.1,895.6ZM998.2,889.9 1001.2,887.6 1004.2,885.4 1007.2,883.1 1010.2,880.8 1013.2,878.5 1016.2,876.3 1019.2,874.0 1022.2,871.7 1017.0,865.1 1014.1,867.3 1011.1,869.6 1008.1,871.9 1005.1,874.1 1002.2,876.4 999.2,878.6 996.2,880.9 993.2,883.1ZM1026.3,868.5 1029.4,866.0 1032.6,863.5 1035.7,861.1 1038.9,858.6 1033.7,852.0 1030.6,854.5 1027.4,857.0 1024.3,859.4 1021.1,861.9ZM1043.0,855.3 1045.9,853.0 1048.8,850.6 1051.8,848.3 1054.7,845.9 1057.6,843.5 1060.5,841.2 1063.4,838.8 1066.3,836.4 1061.1,830.0 1058.2,832.4 1055.3,834.8 1052.4,837.1 1049.5,839.5 1046.6,841.8 1043.6,844.2 1040.7,846.5 1037.8,848.8ZM1070.3,833.1 1073.4,830.5 1076.5,828.0 1079.6,825.4 1082.6,822.8 1077.4,816.5 1074.3,819.1 1071.2,821.6 1068.2,824.2 1065.1,826.7ZM1086.6,819.5 1089.5,817.0 1092.4,814.6 1095.2,812.1 1098.1,809.7 1100.9,807.3 1103.8,804.8 1106.6,802.3 1109.4,799.9 1104.1,793.7 1101.3,796.2 1098.4,798.6 1095.6,801.1 1092.7,803.5 1089.9,805.9 1087.0,808.3 1084.2,810.8 1081.3,813.2ZM1113.4,796.5 1116.4,793.8 1119.4,791.2 1122.4,788.5 1125.4,785.9 1120.0,779.8 1117.0,782.4 1114.0,785.1 1111.0,787.7 1108.0,790.3ZM1129.3,782.4 1132.1,779.9 1134.9,777.4 1137.7,774.9 1140.5,772.4 1143.3,769.8 1146.0,767.3 1148.8,764.8 1151.6,762.2 1146.1,756.3 1143.4,758.8 1140.6,761.3 1137.8,763.8 1135.1,766.3 1132.3,768.9 1129.5,771.3 1126.7,773.8 1123.9,776.3ZM1155.4,758.7 1158.4,756.0 1161.3,753.3 1164.3,750.6 1167.2,747.8 1161.7,742.0 1158.8,744.7 1155.9,747.4 1152.9,750.1 1150.0,752.8ZM1171.0,744.3 1173.7,741.7 1176.5,739.1 1179.2,736.6 1181.9,734.0 1184.7,731.4 1187.4,728.8 1190.1,726.2 1192.8,723.6 1187.3,717.9 1184.6,720.5 1181.9,723.0 1179.2,725.6 1176.4,728.2 1173.7,730.7 1171.0,733.3 1168.3,735.9 1165.5,738.4ZM1196.6,720.0 1199.5,717.2 1202.3,714.5 1205.2,711.7 1208.1,708.9 1202.6,703.2 1199.7,706.0 1196.8,708.7 1193.9,711.5 1191.1,714.3ZM1211.8,705.3 1214.5,702.6 1217.2,700.0 1219.9,697.4 1222.5,694.7 1225.2,692.1 1227.9,689.4 1230.5,686.8 1233.2,684.1 1227.6,678.6 1225.0,681.2 1222.3,683.8 1219.6,686.5 1217.0,689.1 1214.3,691.7 1211.6,694.3 1209.0,697.0 1206.3,699.6ZM1236.9,680.5 1239.7,677.6 1242.5,674.8 1245.4,671.9 1248.2,669.1 1242.6,663.5 1239.7,666.4 1236.9,669.2 1234.1,672.1 1231.3,674.9ZM1251.8,665.4 1254.5,662.7 1257.1,660.0 1259.7,657.4 1262.4,654.7 1265.0,652.0 1267.6,649.3 1270.2,646.6 1272.8,643.9 1267.1,638.4 1264.5,641.1 1261.9,643.8 1259.3,646.4 1256.7,649.1 1254.1,651.8 1251.4,654.5 1248.8,657.2 1246.2,659.8ZM1276.4,640.1 1279.2,637.3 1282.0,634.4 1284.8,631.5 1287.5,628.6 1281.7,623.1 1279.0,626.0 1276.2,628.9 1273.5,631.7 1270.7,634.6ZM1291.1,624.8 1293.7,622.1 1296.3,619.4 1298.8,616.6 1301.4,613.9 1304.0,611.2 1306.6,608.4 1309.1,605.7 1311.7,602.9 1305.8,597.5 1303.3,600.2 1300.7,602.9 1298.1,605.7 1295.6,608.4 1293.0,611.1 1290.5,613.9 1287.9,616.6 1285.3,619.3ZM1315.2,599.1 1318.0,596.2 1320.7,593.2 1323.4,590.3 1326.1,587.4 1320.2,581.9 1317.5,584.8 1314.8,587.8 1312.1,590.7 1309.3,593.7ZM1329.6,583.5 1332.2,580.8 1334.7,578.0 1337.2,575.2 1339.8,572.4 1342.3,569.6 1344.8,566.9 1347.3,564.1 1349.8,561.3 1343.8,555.9 1341.3,558.7 1338.8,561.4 1336.3,564.2 1333.8,567.0 1331.3,569.8 1328.7,572.5 1326.2,575.3 1323.7,578.1ZM1353.3,557.4 1356.0,554.4 1358.7,551.5 1361.3,548.5 1364.0,545.5 1357.9,540.1 1355.3,543.1 1352.6,546.1 1349.9,549.0 1347.3,552.0ZM1367.4,541.6 1369.9,538.8 1372.4,536.0 1374.9,533.1 1377.4,530.3 1379.9,527.5 1382.3,524.7 1384.8,521.9 1387.3,519.0 1381.1,513.7 1378.7,516.5 1376.2,519.3 1373.7,522.1 1371.3,525.0 1368.8,527.8 1366.3,530.6 1363.8,533.4 1361.4,536.2ZM1390.7,515.1 1393.3,512.1 1395.9,509.1 1398.6,506.0 1401.2,503.0 1395.0,497.7 1392.4,500.7 1389.8,503.7 1387.2,506.7 1384.5,509.8ZM1404.6,499.1 1407.0,496.2 1409.5,493.4 1411.9,490.5 1414.3,487.6 1416.8,484.8 1419.2,481.9 1421.6,479.1 1424.1,476.2 1417.8,470.9 1415.4,473.8 1413.0,476.6 1410.5,479.5 1408.1,482.3 1405.7,485.2 1403.2,488.0 1400.8,490.9 1398.4,493.7ZM1427.4,472.2 1430.0,469.2 1432.6,466.1 1435.2,463.0 1437.7,460.0 1431.4,454.7 1428.8,457.7 1426.3,460.8 1423.7,463.9 1421.1,466.9ZM1441.1,456.0 1443.5,453.1 1445.9,450.2 1448.3,447.3 1450.7,444.4 1453.1,441.5 1455.4,438.6 1457.8,435.7 1460.2,432.8 1453.8,427.6 1451.4,430.5 1449.1,433.4 1446.7,436.3 1444.3,439.2 1441.9,442.0 1439.5,444.9 1437.1,447.8 1434.7,450.7ZM1463.5,428.8 1466.1,425.7 1468.6,422.6 1471.1,419.5 1473.6,416.4 1467.2,411.2 1464.7,414.3 1462.2,417.4 1459.6,420.5 1457.1,423.6ZM1476.9,412.4 1479.3,409.4 1481.6,406.5 1484.0,403.6 1486.4,400.7 1488.7,397.7 1491.1,394.8 1493.4,391.9 1495.7,389.0 1489.2,383.8 1486.9,386.7 1484.6,389.6 1482.2,392.5 1479.9,395.5 1477.5,398.4 1475.2,401.3 1472.8,404.2 1470.5,407.1ZM1499.0,384.9 1501.5,381.7 1504.0,378.6 1506.5,375.5 1508.9,372.3 1502.4,367.2 1499.9,370.3 1497.4,373.4 1495.0,376.6 1492.5,379.7ZM1512.2,368.2 1514.5,365.3 1516.8,362.3 1519.1,359.4 1521.4,356.4 1523.7,353.5 1526.1,350.5 1528.4,347.6 1530.7,344.6 1524.1,339.5 1521.8,342.4 1519.5,345.4 1517.2,348.3 1514.9,351.3 1512.5,354.2 1510.2,357.2 1507.9,360.1 1505.6,363.1ZM1533.9,340.5 1536.3,337.3 1538.8,334.1 1541.2,331.0 1543.6,327.8 1537.0,322.7 1534.6,325.9 1532.1,329.0 1529.7,332.2 1527.2,335.4ZM1546.8,323.7 1549.1,320.7 1551.4,317.7 1553.6,314.7 1555.9,311.7 1558.2,308.8 1560.5,305.8 1562.7,302.8 1565.0,299.8 1558.3,294.7 1556.0,297.7 1553.8,300.7 1551.5,303.7 1549.2,306.7 1547.0,309.6 1544.7,312.6 1542.4,315.6 1540.2,318.6ZM1568.1,295.6 1570.5,292.4 1572.9,289.2 1575.3,286.0 1577.7,282.8 1571.0,277.8 1568.6,281.0 1566.2,284.2 1563.8,287.4 1561.4,290.6ZM1580.9,278.7 1583.1,275.6 1585.4,272.6 1587.6,269.6 1589.8,266.6 1592.1,263.6 1594.3,260.6 1596.5,257.6 1598.7,254.5 1591.9,249.5 1589.7,252.5 1587.5,255.6 1585.3,258.6 1583.0,261.6 1580.8,264.6 1578.6,267.6 1576.4,270.6 1574.1,273.6ZM1601.8,250.3 1604.2,247.1 1606.6,243.9 1608.9,240.6 1611.3,237.4 1604.4,232.4 1602.1,235.7 1599.7,238.9 1597.4,242.1 1595.0,245.3ZM1614.3,233.2 1616.6,230.2 1618.8,227.1 1621.0,224.1 1623.2,221.0 1625.4,218.0 1627.5,215.0 1629.7,211.9 1631.9,208.9 1625.0,203.9 1622.8,207.0 1620.7,210.0 1618.5,213.0 1616.3,216.1 1614.1,219.1 1611.9,222.2 1609.7,225.2 1607.5,228.2ZM1635.0,204.6 1637.3,201.4 1639.6,198.1 1641.9,194.8 1644.3,191.6 1637.3,186.7 1635.0,189.9 1632.7,193.2 1630.4,196.4 1628.1,199.7ZM1647.3,187.3 1649.4,184.3 1651.6,181.2 1653.8,178.1 1655.9,175.1 1658.1,172.0 1660.2,168.9 1662.4,165.9 1664.5,162.8 1657.6,157.9 1655.4,161.0 1653.3,164.0 1651.1,167.1 1649.0,170.2 1646.8,173.2 1644.6,176.3 1642.5,179.4 1640.3,182.4ZM1667.5,158.5 1669.8,155.2 1672.1,151.9 1674.4,148.7 1676.7,145.4 1669.6,140.5 1667.4,143.8 1665.1,147.1 1662.8,150.4 1660.5,153.6ZM1679.6,141.1 1681.8,138.0 1683.9,134.9 1686.0,131.8 1688.1,128.7 1690.3,125.6 1692.4,122.5 1694.5,119.4 1696.6,116.3 1689.5,111.5 1687.4,114.6 1685.3,117.7 1683.2,120.8 1681.1,123.9 1679.0,127.0 1676.8,130.1 1674.7,133.1 1672.6,136.2ZM1699.5,112.0 1701.8,108.7 1704.0,105.4 1706.3,102.1 1708.5,98.8 1701.4,94.0 1699.2,97.3 1696.9,100.6 1694.7,103.9 1692.4,107.2ZM1711.4,94.4 1713.4,91.5 1715.3,88.6 1717.3,85.7 1719.2,82.8 1721.1,79.9 1723.1,77.0 1715.9,72.3 1714.0,75.2 1712.1,78.1 1710.1,81.0 1708.2,83.9 1706.2,86.8 1704.3,89.6Z" fill="#b8b8b8"/>
</g><g clip-path="url(#cax)">
<path d="M262.4,1109.4 266.3,1108.3 270.1,1107.3 274.0,1106.3 277.9,1105.2 281.7,1104.2 285.6,1103.2 289.5,1102.1 287.6,1095.0 283.7,1096.1 279.8,1097.1 276.0,1098.2 272.1,1099.2 268.2,1100.2 264.4,1101.3 260.5,1102.3ZM296.4,1100.3 299.8,1099.4 303.2,1098.5 306.6,1097.5 309.9,1096.6 308.0,1089.6 304.7,1090.5 301.3,1091.4 297.9,1092.3 294.5,1093.2ZM316.9,1094.8 320.8,1093.8 324.6,1092.7 328.5,1091.7 332.3,1090.7 336.2,1089.7 340.1,1088.6 343.9,1087.6 342.1,1080.5 338.2,1081.5 334.3,1082.6 330.5,1083.6 326.6,1084.6 322.7,1085.7 318.9,1086.7 315.0,1087.7ZM350.9,1085.8 354.3,1084.9 357.7,1084.0 361.1,1083.1 364.4,1082.2 362.6,1075.1 359.2,1076.0 355.8,1076.9 352.4,1077.8 349.0,1078.7ZM371.4,1080.3 375.3,1079.3 379.1,1078.3 383.0,1077.3 386.9,1076.3 390.7,1075.3 394.6,1074.2 398.5,1073.2 396.6,1066.1 392.7,1067.2 388.9,1068.2 385.0,1069.2 381.1,1070.2 377.3,1071.2 373.4,1072.2 369.5,1073.3ZM405.4,1071.4 408.8,1070.5 412.2,1069.6 415.6,1068.8 419.0,1067.9 417.1,1060.8 413.7,1061.7 410.4,1062.5 407.0,1063.4 403.6,1064.3ZM425.9,1066.1 429.8,1065.0 433.7,1064.0 437.6,1063.0 441.4,1062.0 445.3,1061.0 449.2,1060.0 453.0,1059.0 451.2,1051.9 447.3,1052.9 443.5,1053.9 439.6,1054.9 435.7,1055.9 431.8,1056.9 428.0,1057.9 424.1,1059.0ZM460.0,1057.2 463.4,1056.3 466.8,1055.4 470.2,1054.6 473.6,1053.7 471.7,1046.6 468.3,1047.5 464.9,1048.3 461.6,1049.2 458.2,1050.1ZM480.5,1051.9 484.4,1050.9 488.3,1049.9 492.1,1048.9 496.0,1047.9 499.9,1046.9 503.8,1045.9 507.6,1044.9 505.8,1037.8 501.9,1038.8 498.1,1039.8 494.2,1040.8 490.3,1041.8 486.4,1042.8 482.6,1043.8 478.7,1044.8ZM514.6,1043.1 518.0,1042.3 521.4,1041.4 524.8,1040.5 528.2,1039.7 526.4,1032.5 523.0,1033.4 519.6,1034.3 516.2,1035.2 512.8,1036.0ZM535.1,1037.9 539.0,1036.9 542.9,1035.9 546.8,1034.9 550.7,1033.9 554.5,1032.9 558.4,1032.0 562.3,1031.0 560.5,1023.9 556.6,1024.8 552.7,1025.8 548.8,1026.8 545.0,1027.8 541.1,1028.8 537.2,1029.8 533.3,1030.8ZM569.3,1029.2 572.6,1028.3 576.0,1027.5 579.4,1026.6 582.8,1025.8 581.0,1018.6 577.6,1019.5 574.2,1020.4 570.8,1021.2 567.5,1022.1ZM589.8,1024.0 593.7,1023.0 597.6,1022.0 601.4,1021.1 605.3,1020.1 609.2,1019.1 613.1,1018.1 617.0,1017.1 615.2,1010.0 611.3,1011.0 607.4,1012.0 603.5,1013.0 599.6,1013.9 595.8,1014.9 591.9,1015.9 588.0,1016.9ZM623.9,1015.4 627.3,1014.5 630.7,1013.7 634.1,1012.8 637.5,1012.0 635.7,1004.9 632.3,1005.7 628.9,1006.6 625.5,1007.4 622.1,1008.3ZM644.5,1010.2 648.4,1009.3 652.3,1008.3 656.1,1007.3 660.0,1006.4 663.9,1005.4 667.8,1004.4 671.7,1003.5 669.9,996.3 666.0,997.3 662.1,998.3 658.2,999.2 654.4,1000.2 650.5,1001.2 646.6,1002.1 642.7,1003.1ZM678.6,1001.7 682.0,1000.9 685.4,1000.0 688.8,999.2 692.2,998.4 690.5,991.2 687.1,992.1 683.7,992.9 680.3,993.8 676.9,994.6ZM699.2,996.6 703.1,995.7 707.0,994.7 710.9,993.7 714.7,992.8 718.6,991.8 722.5,990.9 726.4,989.9 724.6,982.8 720.8,983.7 716.9,984.7 713.0,985.6 709.1,986.6 705.2,987.6 701.3,988.5 697.4,989.5ZM733.4,988.2 736.8,987.4 740.2,986.5 743.6,985.7 747.0,984.8 745.2,977.7 741.8,978.5 738.4,979.4 735.0,980.2 731.6,981.1ZM754.0,983.1 757.9,982.2 761.7,981.2 765.6,980.3 769.5,979.3 773.4,978.4 777.3,977.4 781.2,976.5 779.4,969.3 775.5,970.3 771.6,971.2 767.8,972.2 763.9,973.1 760.0,974.1 756.1,975.0 752.2,976.0ZM788.2,974.8 791.6,973.9 795.0,973.1 798.4,972.3 801.8,971.5 800.0,964.3 796.6,965.1 793.2,966.0 789.8,966.8 786.4,967.6ZM808.8,969.8 812.6,968.8 816.5,967.9 820.4,966.9 824.3,966.0 828.2,965.1 832.1,964.1 836.0,963.2 834.2,956.0 830.3,957.0 826.5,957.9 822.6,958.8 818.7,959.8 814.8,960.7 810.9,961.7 807.0,962.6ZM843.0,961.5 846.4,960.7 849.8,959.8 853.2,959.0 856.6,958.2 854.8,951.1 851.4,951.9 848.0,952.7 844.6,953.5 841.2,954.3ZM863.6,956.5 867.5,955.6 871.3,954.6 875.2,953.7 879.1,952.8 883.0,951.8 886.9,950.9 890.8,950.0 889.1,942.8 885.2,943.8 881.3,944.7 877.4,945.6 873.5,946.6 869.6,947.5 865.7,948.4 861.8,949.4ZM897.8,948.3 901.2,947.5 904.6,946.7 908.0,945.9 911.4,945.1 909.7,937.9 906.3,938.7 902.9,939.5 899.5,940.3 896.1,941.2ZM918.4,943.4 922.3,942.5 926.2,941.5 930.1,940.6 934.0,939.7 937.9,938.8 941.8,937.8 945.6,936.9 944.0,929.8 940.1,930.7 936.2,931.6 932.3,932.5 928.4,933.5 924.5,934.4 920.6,935.3 916.7,936.2ZM952.7,935.3 956.1,934.4 959.5,933.6 962.9,932.8 966.3,932.0 964.6,924.9 961.2,925.7 957.8,926.5 954.4,927.3 951.0,928.1ZM973.3,930.4 977.2,929.5 981.1,928.5 985.0,927.6 988.9,926.7 992.7,925.8 996.6,924.9 1000.5,924.0 998.8,916.8 995.0,917.7 991.1,918.6 987.2,919.5 983.3,920.5 979.4,921.4 975.5,922.3 971.6,923.2ZM1007.5,922.3 1010.9,921.5 1014.4,920.7 1017.8,919.9 1021.2,919.1 1019.5,912.0 1016.1,912.7 1012.7,913.5 1009.3,914.3 1005.9,915.1ZM1028.2,917.5 1032.1,916.6 1036.0,915.7 1039.9,914.7 1043.8,913.8 1047.7,912.9 1051.5,912.0 1055.4,911.1 1053.8,903.9 1049.9,904.9 1046.0,905.8 1042.1,906.7 1038.2,907.6 1034.3,908.5 1030.4,909.4 1026.5,910.3ZM1062.5,909.5 1065.9,908.7 1069.3,907.9 1072.7,907.1 1076.1,906.3 1074.4,899.1 1071.0,899.9 1067.6,900.7 1064.2,901.5 1060.8,902.3ZM1083.1,904.7 1087.0,903.8 1090.9,902.9 1094.8,902.0 1098.7,901.1 1102.6,900.2 1106.5,899.3 1110.4,898.4 1108.7,891.2 1104.8,892.1 1100.9,893.0 1097.0,893.9 1093.1,894.8 1089.2,895.7 1085.3,896.6 1081.4,897.5ZM1117.4,896.8 1120.8,896.0 1124.2,895.2 1127.6,894.4 1131.0,893.6 1129.4,886.4 1126.0,887.2 1122.6,888.0 1119.2,888.8 1115.7,889.6ZM1138.1,892.0 1141.9,891.1 1145.8,890.2 1149.7,889.3 1153.6,888.4 1157.5,887.5 1161.4,886.6 1165.3,885.8 1163.7,878.6 1159.8,879.5 1155.9,880.4 1152.0,881.2 1148.1,882.1 1144.2,883.0 1140.3,883.9 1136.4,884.8ZM1172.4,884.1 1175.8,883.4 1179.2,882.6 1182.6,881.8 1186.0,881.0 1184.4,873.8 1181.0,874.6 1177.5,875.4 1174.1,876.2 1170.7,877.0ZM1193.0,879.4 1196.9,878.5 1200.8,877.7 1204.7,876.8 1208.6,875.9 1212.5,875.0 1216.4,874.1 1220.3,873.2 1218.7,866.0 1214.8,866.9 1210.9,867.8 1207.0,868.7 1203.1,869.6 1199.2,870.5 1195.3,871.4 1191.4,872.2ZM1227.3,871.6 1230.8,870.9 1234.2,870.1 1237.6,869.3 1241.0,868.5 1239.4,861.4 1236.0,862.1 1232.5,862.9 1229.1,863.7 1225.7,864.4ZM1248.0,867.0 1251.4,866.2 1254.8,865.4 1258.3,864.6 1261.7,863.9 1265.1,863.1 1268.5,862.3 1271.9,861.6 1275.3,860.8 1273.7,853.6 1270.3,854.4 1266.9,855.1 1263.5,855.9 1260.1,856.7 1256.6,857.5 1253.2,858.2 1249.8,859.0 1246.4,859.8ZM1282.4,859.2 1285.8,858.4 1289.2,857.7 1292.6,856.9 1296.0,856.1 1294.4,849.0 1291.0,849.7 1287.6,850.5 1284.2,851.3 1280.7,852.0ZM1303.0,854.6 1306.9,853.7 1310.8,852.8 1314.7,852.0 1318.6,851.1 1322.6,850.2 1326.5,849.3 1330.4,848.5 1328.8,841.3 1324.8,842.1 1320.9,843.0 1317.0,843.9 1313.1,844.8 1309.2,845.6 1305.3,846.5 1301.4,847.4ZM1337.4,846.9 1340.8,846.1 1344.2,845.4 1347.6,844.6 1351.0,843.9 1349.4,836.7 1346.0,837.4 1342.6,838.2 1339.2,838.9 1335.8,839.7ZM1358.1,842.3 1362.0,841.4 1365.9,840.6 1369.8,839.7 1373.7,838.8 1377.6,838.0 1381.5,837.1 1385.4,836.2 1383.8,829.0 1379.9,829.9 1376.0,830.8 1372.1,831.6 1368.2,832.5 1364.3,833.4 1360.4,834.2 1356.5,835.1ZM1392.4,834.7 1395.9,833.9 1399.3,833.2 1402.7,832.4 1406.1,831.6 1404.5,824.4 1401.1,825.2 1397.7,826.0 1394.3,826.7 1390.8,827.5ZM1413.1,830.1 1417.0,829.2 1420.9,828.4 1424.9,827.5 1428.8,826.7 1432.7,825.8 1436.6,824.9 1440.5,824.1 1438.9,816.9 1435.0,817.7 1431.1,818.6 1427.2,819.5 1423.3,820.3 1419.4,821.2 1415.5,822.0 1411.5,822.9ZM1447.5,822.5 1450.9,821.8 1454.3,821.0 1457.8,820.3 1461.2,819.5 1459.6,812.3 1456.2,813.1 1452.8,813.8 1449.3,814.6 1445.9,815.3ZM1468.2,818.0 1472.1,817.1 1476.0,816.3 1479.9,815.4 1483.8,814.6 1487.8,813.7 1491.7,812.9 1495.6,812.0 1494.0,804.8 1490.1,805.7 1486.2,806.5 1482.3,807.4 1478.4,808.2 1474.5,809.1 1470.5,809.9 1466.6,810.8ZM1502.6,810.5 1506.0,809.7 1509.4,809.0 1512.9,808.2 1516.3,807.5 1514.7,800.3 1511.3,801.0 1507.9,801.8 1504.5,802.5 1501.0,803.3ZM1523.3,806.0 1527.2,805.1 1531.1,804.3 1535.0,803.4 1539.0,802.6 1542.9,801.7 1546.8,800.9 1550.7,800.0 1549.1,792.8 1545.2,793.7 1541.3,794.5 1537.4,795.4 1533.5,796.2 1529.6,797.1 1525.7,797.9 1521.7,798.8ZM1557.7,798.5 1561.1,797.8 1564.6,797.0 1568.0,796.3 1571.4,795.6 1569.8,788.3 1566.4,789.1 1563.0,789.8 1559.6,790.6 1556.2,791.3ZM1578.4,794.0 1582.3,793.2 1586.3,792.4 1590.2,791.5 1594.1,790.7 1598.0,789.8 1601.9,789.0 1605.8,788.1 1604.3,780.9 1600.3,781.8 1596.4,782.6 1592.5,783.5 1588.6,784.3 1584.7,785.1 1580.8,786.0 1576.9,786.8ZM1612.8,786.6 1616.3,785.9 1619.7,785.2 1623.1,784.4 1626.5,783.7 1625.0,776.5 1621.6,777.2 1618.1,777.9 1614.7,778.7 1611.3,779.4ZM1633.6,782.2 1637.5,781.3 1641.4,780.5 1645.3,779.7 1649.2,778.8 1653.1,778.0 1657.0,777.2 1660.9,776.3 1659.4,769.1 1655.5,769.9 1651.6,770.8 1647.7,771.6 1643.8,772.5 1639.8,773.3 1635.9,774.1 1632.0,775.0ZM1668.0,774.8 1671.4,774.1 1674.8,773.4 1678.3,772.6 1681.7,771.9 1680.1,764.7 1676.7,765.4 1673.3,766.1 1669.9,766.9 1666.4,767.6ZM1688.7,770.4 1692.6,769.6 1696.5,768.7 1700.5,767.9 1704.4,767.1 1708.3,766.2 1712.2,765.4 1716.1,764.6 1714.6,757.4 1710.7,758.2 1706.7,759.0 1702.8,759.9 1698.9,760.7 1695.0,761.5 1691.1,762.3 1687.2,763.2Z" fill="#ff0000"/>
<path d="M262.8,427.1 266.5,425.5 270.2,424.0 273.8,422.4 277.5,420.9 281.2,419.3 284.9,417.8 288.6,416.2 285.9,409.7 282.2,411.2 278.5,412.8 274.8,414.3 271.1,415.9 267.4,417.4 263.7,419.0 260.0,420.6ZM295.2,413.5 298.5,412.2 301.7,410.8 304.9,409.5 308.2,408.2 305.5,401.6 302.3,402.9 299.0,404.3 295.8,405.6 292.5,406.9ZM314.8,405.5 318.5,404.1 322.3,402.6 326.0,401.1 329.7,399.7 333.4,398.2 337.1,396.7 340.9,395.3 338.3,388.6 334.5,390.1 330.8,391.6 327.1,393.0 323.4,394.5 319.6,396.0 315.9,397.4 312.2,398.9ZM347.6,392.7 350.8,391.5 354.1,390.2 357.4,389.0 360.6,387.8 358.1,381.1 354.8,382.3 351.6,383.5 348.3,384.8 345.0,386.0ZM367.4,385.2 371.1,383.8 374.9,382.4 378.6,381.1 382.3,379.7 386.1,378.3 389.9,377.0 393.6,375.6 391.2,368.8 387.4,370.2 383.6,371.6 379.9,373.0 376.1,374.3 372.4,375.7 368.6,377.1 364.9,378.5ZM400.4,373.2 403.7,372.0 407.0,370.8 410.3,369.7 413.6,368.5 411.2,361.7 407.9,362.9 404.6,364.0 401.3,365.2 398.0,366.4ZM420.3,366.1 424.1,364.8 427.9,363.5 431.7,362.2 435.4,360.9 439.2,359.6 443.0,358.3 446.8,357.1 444.5,350.2 440.7,351.5 436.9,352.8 433.1,354.1 429.3,355.4 425.5,356.7 421.7,358.0 418.0,359.3ZM453.6,354.8 456.9,353.7 460.2,352.6 463.6,351.5 466.9,350.4 464.6,343.5 461.3,344.6 458.0,345.7 454.6,346.8 451.3,347.9ZM473.7,348.1 477.5,346.9 481.3,345.7 485.1,344.5 488.9,343.2 492.7,342.0 496.5,340.8 500.4,339.6 498.2,332.7 494.4,333.9 490.5,335.1 486.7,336.3 482.9,337.6 479.1,338.8 475.3,340.0 471.5,341.3ZM507.2,337.5 510.6,336.4 513.9,335.4 517.2,334.4 520.6,333.3 518.4,326.4 515.1,327.4 511.7,328.5 508.4,329.5 505.1,330.5ZM527.5,331.2 531.3,330.1 535.1,328.9 538.9,327.8 542.8,326.6 546.6,325.5 550.4,324.4 554.2,323.2 552.2,316.2 548.3,317.4 544.5,318.5 540.7,319.7 536.8,320.8 533.0,322.0 529.2,323.1 525.3,324.3ZM561.1,321.2 564.5,320.2 567.9,319.3 571.2,318.3 574.6,317.3 572.6,310.3 569.2,311.3 565.8,312.3 562.5,313.2 559.1,314.2ZM581.5,315.4 585.3,314.3 589.2,313.2 593.0,312.1 596.9,311.0 600.7,310.0 604.6,308.9 608.4,307.8 606.5,300.8 602.6,301.8 598.8,302.9 594.9,304.0 591.1,305.1 587.2,306.2 583.4,307.2 579.5,308.3ZM615.4,305.9 618.7,305.0 622.1,304.1 625.5,303.2 628.9,302.3 627.0,295.2 623.6,296.1 620.2,297.0 616.8,298.0 613.4,298.9ZM635.8,300.4 639.7,299.4 643.5,298.4 647.4,297.4 651.3,296.3 655.1,295.3 659.0,294.3 662.9,293.3 661.0,286.2 657.2,287.2 653.3,288.2 649.4,289.3 645.5,290.3 641.7,291.3 637.8,292.3 633.9,293.3ZM669.8,291.6 673.2,290.7 676.6,289.8 680.0,289.0 683.4,288.1 681.6,281.0 678.2,281.9 674.8,282.7 671.4,283.6 668.0,284.4ZM690.4,286.4 694.3,285.4 698.1,284.4 702.0,283.5 705.9,282.5 709.8,281.6 713.7,280.6 717.5,279.7 715.8,272.6 711.9,273.5 708.0,274.4 704.1,275.4 700.3,276.4 696.4,277.3 692.5,278.3 688.6,279.2ZM724.5,278.0 727.9,277.2 731.3,276.4 734.7,275.6 738.1,274.8 736.5,267.6 733.0,268.4 729.6,269.2 726.2,270.0 722.8,270.9ZM745.2,273.1 749.0,272.2 752.9,271.3 756.8,270.4 760.7,269.5 764.6,268.6 768.5,267.7 772.4,266.8 770.8,259.7 766.9,260.5 763.0,261.4 759.1,262.3 755.2,263.2 751.3,264.1 747.4,265.1 743.5,266.0ZM779.4,265.3 782.8,264.5 786.3,263.7 789.7,263.0 793.1,262.2 791.5,255.0 788.1,255.8 784.6,256.5 781.2,257.3 777.8,258.1ZM800.1,260.6 804.0,259.8 807.9,258.9 811.8,258.1 815.7,257.2 819.6,256.4 823.5,255.5 827.4,254.7 825.9,247.5 822.0,248.3 818.1,249.2 814.2,250.0 810.2,250.9 806.3,251.7 802.4,252.6 798.5,253.4ZM834.5,253.2 837.9,252.5 841.3,251.8 844.7,251.0 848.2,250.3 846.7,243.1 843.2,243.8 839.8,244.5 836.4,245.3 832.9,246.0ZM855.2,248.8 859.1,248.0 863.0,247.2 867.0,246.4 870.9,245.6 874.8,244.8 878.7,244.0 882.6,243.2 881.2,236.0 877.2,236.8 873.3,237.6 869.4,238.4 865.5,239.2 861.5,240.0 857.6,240.8 853.7,241.6ZM889.7,241.8 893.1,241.1 896.5,240.4 900.0,239.8 903.4,239.1 902.0,231.8 898.5,232.5 895.1,233.2 891.6,233.9 888.2,234.6ZM910.5,237.7 914.4,236.9 918.3,236.1 922.2,235.4 926.1,234.6 930.1,233.9 934.0,233.1 937.9,232.4 936.5,225.1 932.6,225.8 928.7,226.6 924.7,227.4 920.8,228.1 916.9,228.9 913.0,229.6 909.0,230.4ZM945.0,231.0 948.4,230.4 951.9,229.7 955.3,229.1 958.7,228.4 957.4,221.1 953.9,221.8 950.5,222.4 947.0,223.1 943.6,223.7ZM965.8,227.1 969.7,226.4 973.7,225.6 977.6,224.9 981.5,224.2 985.5,223.5 989.4,222.7 993.3,222.0 992.0,214.7 988.1,215.4 984.1,216.2 980.2,216.9 976.3,217.6 972.3,218.3 968.4,219.1 964.5,219.8ZM1000.4,220.7 1003.9,220.1 1007.3,219.5 1010.7,218.9 1014.2,218.3 1012.9,211.0 1009.4,211.6 1006.0,212.2 1002.5,212.8 999.1,213.4ZM1021.3,217.0 1025.2,216.3 1029.1,215.6 1033.1,214.9 1037.0,214.3 1041.0,213.6 1044.9,212.9 1048.8,212.2 1047.6,204.9 1043.6,205.6 1039.7,206.3 1035.7,206.9 1031.8,207.6 1027.9,208.3 1023.9,209.0 1020.0,209.7ZM1055.9,211.0 1059.4,210.4 1062.8,209.8 1066.3,209.2 1069.7,208.6 1068.5,201.3 1065.0,201.9 1061.6,202.5 1058.1,203.1 1054.7,203.7ZM1076.8,207.4 1080.8,206.8 1084.7,206.1 1088.6,205.4 1092.6,204.8 1096.5,204.1 1100.5,203.5 1104.4,202.8 1103.2,195.5 1099.3,196.1 1095.3,196.8 1091.4,197.5 1087.4,198.1 1083.5,198.8 1079.5,199.4 1075.6,200.1ZM1111.5,201.7 1115.0,201.1 1118.4,200.5 1121.9,200.0 1125.3,199.4 1124.1,192.1 1120.7,192.6 1117.2,193.2 1113.8,193.8 1110.3,194.3ZM1132.4,198.3 1136.4,197.6 1140.3,197.0 1144.3,196.4 1148.2,195.7 1152.2,195.1 1156.1,194.5 1160.1,193.9 1158.9,186.5 1155.0,187.1 1151.0,187.8 1147.1,188.4 1143.1,189.0 1139.2,189.7 1135.2,190.3 1131.3,190.9ZM1167.2,192.7 1170.6,192.2 1174.1,191.7 1177.6,191.1 1181.0,190.6 1179.9,183.2 1176.4,183.8 1173.0,184.3 1169.5,184.9 1166.0,185.4ZM1188.1,189.5 1192.1,188.9 1196.0,188.3 1200.0,187.7 1203.9,187.1 1207.9,186.5 1211.8,185.9 1215.8,185.3 1214.7,177.9 1210.7,178.5 1206.8,179.1 1202.8,179.7 1198.9,180.3 1194.9,180.9 1191.0,181.5 1187.0,182.1ZM1222.9,184.2 1226.4,183.7 1229.8,183.2 1233.3,182.7 1236.8,182.2 1235.7,174.8 1232.2,175.3 1228.7,175.8 1225.3,176.3 1221.8,176.9ZM1243.9,181.1 1247.3,180.6 1250.8,180.1 1254.3,179.6 1257.7,179.1 1261.2,178.6 1264.6,178.1 1268.1,177.6 1271.6,177.1 1270.5,169.7 1267.0,170.2 1263.6,170.7 1260.1,171.2 1256.6,171.7 1253.2,172.2 1249.7,172.7 1246.3,173.2 1242.8,173.7ZM1278.7,176.0 1282.2,175.5 1285.6,175.0 1289.1,174.5 1292.5,174.1 1291.5,166.7 1288.0,167.2 1284.6,167.7 1281.1,168.2 1277.6,168.7ZM1299.7,173.0 1303.6,172.5 1307.6,171.9 1311.6,171.4 1315.5,170.8 1319.5,170.3 1323.4,169.7 1327.4,169.2 1326.4,161.8 1322.4,162.3 1318.4,162.9 1314.5,163.4 1310.5,164.0 1306.6,164.5 1302.6,165.1 1298.6,165.7ZM1334.5,168.2 1338.0,167.7 1341.5,167.2 1344.9,166.8 1348.4,166.3 1347.4,158.9 1343.9,159.4 1340.4,159.8 1337.0,160.3 1333.5,160.8ZM1355.5,165.3 1359.5,164.8 1363.4,164.2 1367.4,163.7 1371.4,163.2 1375.3,162.6 1379.3,162.1 1383.3,161.6 1382.3,154.2 1378.3,154.7 1374.3,155.3 1370.4,155.8 1366.4,156.3 1362.4,156.8 1358.5,157.4 1354.5,157.9ZM1390.4,160.6 1393.9,160.2 1397.3,159.7 1400.8,159.3 1404.3,158.8 1403.3,151.4 1399.8,151.9 1396.4,152.3 1392.9,152.8 1389.4,153.2ZM1411.4,157.9 1415.4,157.4 1419.3,156.9 1423.3,156.3 1427.3,155.8 1431.2,155.3 1435.2,154.8 1439.2,154.3 1438.2,146.9 1434.3,147.4 1430.3,147.9 1426.3,148.4 1422.4,148.9 1418.4,149.5 1414.4,150.0 1410.4,150.5ZM1446.3,153.4 1449.8,153.0 1453.3,152.5 1456.7,152.1 1460.2,151.7 1459.3,144.3 1455.8,144.7 1452.3,145.1 1448.8,145.6 1445.4,146.0ZM1467.3,150.8 1471.3,150.3 1475.3,149.8 1479.2,149.3 1483.2,148.8 1487.2,148.3 1491.1,147.8 1495.1,147.3 1494.2,139.9 1490.2,140.4 1486.3,140.9 1482.3,141.4 1478.3,141.9 1474.4,142.4 1470.4,142.9 1466.4,143.4ZM1502.3,146.5 1505.7,146.0 1509.2,145.6 1512.7,145.2 1516.2,144.8 1515.3,137.4 1511.8,137.8 1508.3,138.2 1504.8,138.6 1501.4,139.1ZM1523.3,143.9 1527.3,143.5 1531.2,143.0 1535.2,142.5 1539.2,142.1 1543.2,141.6 1547.1,141.1 1551.1,140.7 1550.2,133.3 1546.3,133.7 1542.3,134.2 1538.3,134.6 1534.3,135.1 1530.4,135.6 1526.4,136.1 1522.4,136.5ZM1558.2,139.8 1561.7,139.4 1565.2,139.0 1568.7,138.6 1572.2,138.2 1571.3,130.8 1567.8,131.2 1564.3,131.6 1560.9,132.0 1557.4,132.4ZM1579.3,137.4 1583.3,137.0 1587.3,136.5 1591.2,136.1 1595.2,135.6 1599.2,135.2 1603.1,134.8 1607.1,134.3 1606.3,126.9 1602.3,127.3 1598.3,127.8 1594.4,128.2 1590.4,128.7 1586.4,129.1 1582.4,129.6 1578.5,130.0ZM1614.3,133.5 1617.8,133.1 1621.2,132.8 1624.7,132.4 1628.2,132.0 1627.4,124.6 1623.9,125.0 1620.4,125.3 1616.9,125.7 1613.5,126.1ZM1635.3,131.2 1639.3,130.8 1643.3,130.4 1647.3,130.0 1651.2,129.5 1655.2,129.1 1659.2,128.7 1663.2,128.3 1662.4,120.9 1658.4,121.3 1654.4,121.7 1650.5,122.1 1646.5,122.5 1642.5,123.0 1638.5,123.4 1634.5,123.8ZM1670.3,127.6 1673.8,127.2 1677.3,126.8 1680.8,126.5 1684.3,126.1 1683.5,118.7 1680.0,119.0 1676.5,119.4 1673.0,119.8 1669.6,120.1ZM1691.4,125.4 1695.4,125.0 1699.4,124.6 1703.3,124.2 1707.3,123.8 1711.3,123.4 1715.3,123.0 1719.3,122.6 1718.5,115.2 1714.6,115.6 1710.6,116.0 1706.6,116.4 1702.6,116.8 1698.6,117.2 1694.6,117.6 1690.7,118.0Z" fill="#0000ff"/>
<path d="M260.1,1048.4 263.8,1049.9 267.5,1051.4 271.3,1052.9 275.0,1054.4 278.8,1055.8 282.6,1057.2 286.3,1058.6 288.8,1051.8 285.0,1050.5 281.3,1049.1 277.6,1047.7 273.9,1046.3 270.2,1044.8 266.5,1043.3 262.8,1041.9ZM293.2,1061.0 296.5,1062.1 299.8,1063.3 303.2,1064.4 306.5,1065.5 308.7,1058.6 305.4,1057.5 302.1,1056.4 298.8,1055.3 295.5,1054.2ZM313.4,1067.6 317.3,1068.8 321.1,1070.0 325.0,1071.1 328.9,1072.2 332.7,1073.3 336.6,1074.3 340.5,1075.3 342.4,1068.2 338.5,1067.2 334.7,1066.2 330.8,1065.2 327.0,1064.1 323.2,1063.0 319.4,1061.9 315.6,1060.7ZM347.5,1077.1 351.0,1077.9 354.4,1078.7 357.8,1079.5 361.3,1080.3 362.8,1073.1 359.5,1072.3 356.1,1071.6 352.7,1070.8 349.3,1070.0ZM368.4,1081.8 372.3,1082.6 376.3,1083.4 380.2,1084.1 384.2,1084.9 388.1,1085.5 392.1,1086.2 396.1,1086.8 397.2,1079.5 393.3,1078.9 389.4,1078.2 385.5,1077.5 381.6,1076.8 377.6,1076.1 373.7,1075.4 369.8,1074.6ZM403.3,1087.9 406.7,1088.4 410.2,1088.9 413.7,1089.3 417.2,1089.7 418.1,1082.3 414.6,1081.9 411.2,1081.5 407.7,1081.0 404.3,1080.5ZM424.4,1090.5 428.4,1090.9 432.4,1091.3 436.5,1091.6 440.5,1092.0 444.5,1092.3 448.5,1092.5 452.5,1092.7 452.9,1085.3 449.0,1085.0 445.0,1084.8 441.0,1084.5 437.1,1084.2 433.1,1083.8 429.2,1083.5 425.2,1083.1ZM459.8,1093.1 463.3,1093.2 466.8,1093.3 470.3,1093.4 473.9,1093.5 474.0,1086.0 470.5,1085.9 467.0,1085.8 463.5,1085.7 460.1,1085.6ZM481.1,1093.6 485.1,1093.6 489.2,1093.6 493.2,1093.5 497.2,1093.4 501.2,1093.3 505.2,1093.2 509.3,1093.0 508.9,1085.5 505.0,1085.7 501.0,1085.8 497.0,1085.9 493.1,1086.0 489.1,1086.1 485.1,1086.1 481.1,1086.1ZM516.5,1092.6 520.0,1092.4 523.5,1092.2 527.1,1091.9 530.6,1091.7 530.0,1084.2 526.5,1084.5 523.0,1084.7 519.6,1085.0 516.1,1085.2ZM537.8,1091.0 541.8,1090.7 545.8,1090.2 549.8,1089.8 553.8,1089.3 557.8,1088.9 561.8,1088.3 565.8,1087.8 564.7,1080.4 560.8,1080.9 556.9,1081.5 552.9,1081.9 549.0,1082.4 545.0,1082.8 541.0,1083.2 537.1,1083.6ZM572.9,1086.8 576.4,1086.2 579.9,1085.7 583.4,1085.1 586.8,1084.5 585.6,1077.2 582.1,1077.8 578.7,1078.3 575.3,1078.9 571.8,1079.4ZM594.0,1083.2 597.9,1082.5 601.9,1081.7 605.8,1080.9 609.7,1080.1 613.7,1079.2 617.6,1078.4 621.5,1077.5 619.9,1070.3 616.0,1071.2 612.1,1072.0 608.2,1072.8 604.3,1073.7 600.4,1074.4 596.5,1075.2 592.6,1075.9ZM628.6,1075.8 632.0,1075.0 635.4,1074.1 638.8,1073.3 642.2,1072.4 640.4,1065.3 637.0,1066.2 633.6,1067.0 630.2,1067.9 626.9,1068.7ZM649.2,1070.5 653.1,1069.4 656.9,1068.4 660.8,1067.2 664.7,1066.1 668.5,1065.0 672.4,1063.8 676.2,1062.6 674.0,1055.7 670.2,1056.8 666.4,1058.0 662.6,1059.1 658.8,1060.2 655.0,1061.3 651.1,1062.4 647.3,1063.5ZM683.1,1060.4 686.4,1059.3 689.8,1058.2 693.1,1057.0 696.4,1055.9 694.1,1049.1 690.8,1050.2 687.5,1051.3 684.2,1052.4 680.9,1053.5ZM703.3,1053.5 707.0,1052.2 710.8,1050.8 714.6,1049.4 718.3,1048.0 722.1,1046.5 725.8,1045.1 729.6,1043.6 727.0,1037.0 723.3,1038.4 719.5,1039.9 715.8,1041.3 712.1,1042.7 708.3,1044.0 704.6,1045.4 700.8,1046.7ZM736.3,1041.0 739.5,1039.6 742.8,1038.3 746.0,1036.9 749.3,1035.6 746.5,1029.1 743.3,1030.4 740.1,1031.7 736.9,1033.0 733.6,1034.4ZM755.9,1032.7 759.6,1031.1 763.3,1029.5 767.0,1027.9 770.6,1026.2 774.3,1024.6 777.9,1022.9 781.6,1021.2 778.6,1014.8 775.0,1016.5 771.3,1018.2 767.7,1019.8 764.1,1021.5 760.4,1023.1 756.8,1024.7 753.1,1026.3ZM788.1,1018.1 791.2,1016.6 794.4,1015.0 797.6,1013.5 800.7,1011.9 797.6,1005.7 794.5,1007.3 791.4,1008.8 788.2,1010.3 785.1,1011.8ZM807.2,1008.7 810.8,1006.9 814.3,1005.1 817.9,1003.2 821.5,1001.4 825.0,999.5 828.5,997.6 832.1,995.7 828.8,989.7 825.3,991.6 821.8,993.4 818.3,995.3 814.7,997.1 811.2,998.9 807.6,1000.7 804.1,1002.5ZM838.4,992.3 841.5,990.6 844.6,988.9 847.7,987.2 850.7,985.5 847.4,979.5 844.3,981.2 841.3,982.9 838.2,984.6 835.2,986.3ZM857.0,981.9 860.5,979.9 863.9,977.9 867.4,975.9 870.9,973.9 874.3,971.8 877.8,969.8 881.2,967.7 877.7,961.9 874.3,964.0 870.9,966.0 867.4,968.0 864.0,970.0 860.6,972.0 857.1,974.0 853.6,976.0ZM887.4,963.9 890.4,962.1 893.4,960.3 896.3,958.4 899.3,956.6 895.8,950.9 892.8,952.7 889.8,954.6 886.9,956.4 883.9,958.2ZM905.4,952.7 908.8,950.6 912.2,948.4 915.6,946.2 918.9,944.1 922.3,941.9 925.6,939.7 929.0,937.4 925.3,931.9 922.0,934.1 918.7,936.3 915.3,938.5 912.0,940.7 908.6,942.8 905.2,944.9 901.9,947.1ZM935.0,933.4 937.9,931.5 940.8,929.5 943.7,927.5 946.6,925.6 942.9,920.2 940.0,922.1 937.1,924.1 934.2,926.0 931.3,928.0ZM952.5,921.5 955.8,919.2 959.1,916.9 962.4,914.6 965.7,912.3 968.9,910.0 972.2,907.6 975.5,905.3 971.7,900.0 968.4,902.3 965.2,904.7 961.9,907.0 958.7,909.3 955.4,911.5 952.1,913.8 948.8,916.1ZM981.3,901.1 984.1,899.0 987.0,896.9 989.8,894.9 992.6,892.8 988.8,887.6 986.0,889.7 983.2,891.7 980.3,893.8 977.5,895.8ZM998.4,888.5 1001.6,886.1 1004.8,883.7 1008.0,881.2 1011.2,878.8 1014.4,876.4 1017.6,873.9 1020.7,871.5 1016.9,866.5 1013.7,868.9 1010.5,871.3 1007.3,873.7 1004.2,876.1 1001.0,878.5 997.8,880.9 994.6,883.3ZM1026.4,867.1 1029.2,864.9 1032.0,862.8 1034.7,860.6 1037.5,858.4 1033.6,853.4 1030.8,855.6 1028.1,857.8 1025.3,859.9 1022.5,862.1ZM1043.1,853.9 1046.3,851.4 1049.4,848.9 1052.5,846.4 1055.6,843.9 1058.7,841.3 1061.8,838.8 1064.9,836.3 1060.9,831.4 1057.8,834.0 1054.7,836.5 1051.6,839.0 1048.5,841.5 1045.4,844.0 1042.3,846.5 1039.2,849.0ZM1070.5,831.7 1073.2,829.4 1075.9,827.2 1078.6,824.9 1081.2,822.7 1077.2,817.9 1074.6,820.2 1071.9,822.4 1069.2,824.6 1066.5,826.9ZM1086.7,818.0 1089.8,815.4 1092.9,812.9 1095.9,810.2 1098.9,807.6 1102.0,805.0 1105.0,802.4 1108.0,799.8 1104.0,795.1 1101.0,797.7 1097.9,800.3 1094.9,802.9 1091.9,805.5 1088.8,808.1 1085.8,810.7 1082.7,813.3ZM1113.5,795.0 1116.1,792.7 1118.7,790.4 1121.4,788.1 1124.0,785.8 1119.9,781.2 1117.3,783.5 1114.7,785.8 1112.0,788.1 1109.4,790.4ZM1129.4,781.0 1132.4,778.3 1135.3,775.6 1138.3,773.0 1141.3,770.3 1144.3,767.6 1147.2,764.9 1150.2,762.2 1146.1,757.7 1143.1,760.4 1140.2,763.1 1137.2,765.8 1134.2,768.4 1131.3,771.1 1128.3,773.8 1125.3,776.4ZM1155.5,757.3 1158.1,754.9 1160.6,752.6 1163.2,750.2 1165.8,747.8 1161.7,743.4 1159.1,745.7 1156.5,748.1 1154.0,750.5 1151.4,752.9ZM1171.0,742.9 1173.6,740.5 1176.2,738.1 1178.7,735.7 1181.3,733.3 1183.8,730.9 1186.3,728.4 1188.9,726.0 1191.4,723.6 1187.3,719.3 1184.7,721.7 1182.2,724.1 1179.7,726.5 1177.1,728.9 1174.6,731.3 1172.0,733.7 1169.5,736.1 1166.9,738.5ZM1196.6,718.6 1199.1,716.2 1201.6,713.7 1204.2,711.3 1206.7,708.9 1202.5,704.6 1200.0,707.0 1197.5,709.5 1195.0,711.9 1192.5,714.3ZM1211.8,703.8 1214.7,701.0 1217.6,698.2 1220.4,695.4 1223.3,692.6 1226.1,689.8 1228.9,687.0 1231.8,684.1 1227.6,680.0 1224.8,682.8 1221.9,685.6 1219.1,688.4 1216.3,691.2 1213.4,694.0 1210.6,696.8 1207.7,699.6ZM1236.9,679.0 1239.4,676.6 1241.8,674.1 1244.3,671.6 1246.8,669.1 1242.6,665.0 1240.1,667.4 1237.6,669.9 1235.2,672.4 1232.7,674.9ZM1251.8,664.0 1254.6,661.1 1257.4,658.3 1260.2,655.4 1263.0,652.5 1265.8,649.7 1268.6,646.8 1271.4,643.9 1267.1,639.8 1264.3,642.7 1261.6,645.5 1258.8,648.4 1256.0,651.3 1253.2,654.1 1250.4,657.0 1247.6,659.8ZM1276.4,638.7 1278.8,636.2 1281.3,633.7 1283.7,631.1 1286.1,628.6 1281.8,624.5 1279.4,627.0 1276.9,629.6 1274.5,632.1 1272.1,634.6ZM1291.1,623.4 1293.8,620.5 1296.6,617.6 1299.3,614.7 1302.1,611.7 1304.8,608.8 1307.5,605.9 1310.3,603.0 1305.9,598.9 1303.1,601.8 1300.4,604.7 1297.7,607.6 1294.9,610.5 1292.2,613.5 1289.5,616.4 1286.7,619.3ZM1315.2,597.7 1317.6,595.1 1319.9,592.6 1322.3,590.0 1324.7,587.4 1320.2,583.3 1317.9,585.9 1315.5,588.5 1313.1,591.0 1310.8,593.6ZM1329.6,582.1 1332.3,579.2 1335.0,576.2 1337.7,573.2 1340.4,570.3 1343.0,567.3 1345.7,564.3 1348.4,561.4 1343.9,557.3 1341.2,560.3 1338.5,563.2 1335.9,566.2 1333.2,569.2 1330.5,572.1 1327.8,575.1 1325.1,578.0ZM1353.2,556.0 1355.6,553.4 1357.9,550.8 1360.2,548.2 1362.6,545.6 1358.0,541.5 1355.7,544.1 1353.4,546.7 1351.0,549.3 1348.7,551.9ZM1367.4,540.2 1370.0,537.2 1372.7,534.2 1375.3,531.2 1378.0,528.2 1380.6,525.2 1383.2,522.1 1385.9,519.1 1381.2,515.1 1378.6,518.1 1376.0,521.1 1373.3,524.1 1370.7,527.1 1368.1,530.1 1365.4,533.1 1362.8,536.1ZM1390.6,513.7 1392.9,511.1 1395.2,508.4 1397.5,505.8 1399.8,503.1 1395.1,499.1 1392.8,501.7 1390.5,504.4 1388.2,507.0 1385.9,509.7ZM1404.5,497.6 1407.1,494.6 1409.7,491.6 1412.3,488.5 1414.9,485.5 1417.5,482.4 1420.1,479.4 1422.7,476.3 1417.9,472.3 1415.3,475.4 1412.7,478.4 1410.2,481.5 1407.6,484.5 1405.0,487.5 1402.4,490.6 1399.8,493.6ZM1427.3,470.8 1429.6,468.1 1431.8,465.5 1434.1,462.8 1436.3,460.1 1431.5,456.1 1429.3,458.8 1427.0,461.5 1424.8,464.1 1422.6,466.8ZM1440.9,454.6 1443.5,451.5 1446.1,448.4 1448.6,445.3 1451.2,442.2 1453.7,439.2 1456.3,436.1 1458.8,433.0 1454.0,429.0 1451.4,432.1 1448.9,435.2 1446.3,438.3 1443.8,441.3 1441.3,444.4 1438.7,447.5 1436.1,450.6ZM1463.4,427.4 1465.6,424.7 1467.8,422.0 1470.0,419.3 1472.2,416.5 1467.4,412.6 1465.2,415.3 1462.9,418.0 1460.7,420.7 1458.5,423.4ZM1476.8,410.9 1479.3,407.8 1481.8,404.7 1484.3,401.6 1486.8,398.5 1489.3,395.4 1491.8,392.2 1494.3,389.1 1489.4,385.2 1486.9,388.3 1484.4,391.4 1481.9,394.5 1479.4,397.7 1476.9,400.8 1474.4,403.9 1471.9,407.0ZM1498.8,383.5 1501.0,380.7 1503.2,378.0 1505.4,375.2 1507.5,372.5 1502.6,368.6 1500.4,371.3 1498.2,374.1 1496.1,376.8 1493.9,379.5ZM1512.0,366.8 1514.5,363.7 1516.9,360.5 1519.4,357.4 1521.9,354.2 1524.3,351.1 1526.8,347.9 1529.3,344.8 1524.2,340.9 1521.8,344.0 1519.3,347.2 1516.9,350.3 1514.4,353.5 1512.0,356.6 1509.5,359.8 1507.0,362.9ZM1533.7,339.1 1535.8,336.3 1538.0,333.5 1540.1,330.8 1542.2,328.0 1537.2,324.1 1535.0,326.9 1532.9,329.6 1530.8,332.4 1528.6,335.2ZM1546.6,322.3 1549.1,319.1 1551.5,315.9 1553.9,312.7 1556.3,309.5 1558.8,306.4 1561.2,303.2 1563.6,300.0 1558.5,296.1 1556.1,299.3 1553.7,302.5 1551.2,305.7 1548.8,308.9 1546.4,312.0 1544.0,315.2 1541.6,318.4ZM1567.9,294.2 1570.0,291.4 1572.1,288.6 1574.2,285.8 1576.3,283.0 1571.2,279.2 1569.1,282.0 1567.0,284.8 1564.9,287.6 1562.8,290.4ZM1580.7,277.3 1583.1,274.0 1585.4,270.8 1587.8,267.6 1590.2,264.4 1592.6,261.2 1595.0,258.0 1597.3,254.7 1592.2,250.9 1589.8,254.1 1587.4,257.4 1585.0,260.6 1582.7,263.8 1580.3,267.0 1577.9,270.2 1575.5,273.4ZM1601.6,248.9 1603.7,246.1 1605.8,243.3 1607.8,240.5 1609.9,237.6 1604.7,233.8 1602.6,236.7 1600.5,239.5 1598.5,242.3 1596.4,245.1ZM1614.1,231.8 1616.5,228.6 1618.8,225.3 1621.2,222.1 1623.5,218.8 1625.9,215.6 1628.2,212.3 1630.5,209.1 1625.3,205.3 1622.9,208.6 1620.6,211.8 1618.3,215.0 1615.9,218.3 1613.6,221.5 1611.2,224.8 1608.9,228.0ZM1634.7,203.2 1636.8,200.4 1638.8,197.5 1640.8,194.7 1642.9,191.8 1637.6,188.1 1635.5,190.9 1633.5,193.8 1631.5,196.6 1629.4,199.5ZM1647.0,185.9 1649.3,182.7 1651.6,179.4 1654.0,176.1 1656.3,172.9 1658.6,169.6 1660.9,166.3 1663.2,163.0 1657.8,159.3 1655.5,162.6 1653.2,165.8 1650.9,169.1 1648.6,172.4 1646.3,175.7 1644.0,178.9 1641.7,182.2ZM1667.3,157.1 1669.3,154.2 1671.3,151.4 1673.3,148.5 1675.3,145.6 1669.9,141.9 1667.9,144.8 1665.9,147.6 1663.9,150.5 1661.9,153.4ZM1679.4,139.7 1681.6,136.4 1683.9,133.1 1686.2,129.8 1688.4,126.5 1690.7,123.2 1693.0,119.9 1695.2,116.6 1689.8,112.9 1687.5,116.2 1685.3,119.5 1683.0,122.8 1680.8,126.1 1678.5,129.4 1676.2,132.7 1674.0,136.0ZM1699.3,110.6 1701.2,107.7 1703.2,104.8 1705.2,101.9 1707.1,99.0 1701.7,95.3 1699.7,98.2 1697.8,101.1 1695.8,104.0 1693.8,106.9ZM1711.1,93.0 1713.4,89.7 1715.6,86.4 1717.8,83.1 1720.0,79.8 1722.2,76.5 1716.8,72.8 1714.5,76.1 1712.3,79.5 1710.1,82.8 1707.9,86.1 1705.7,89.4Z" fill="#000"/>
</g>
<ellipse cx="1267.5" cy="625" rx="35.5" ry="64" stroke="#000" stroke-width="5.5" fill="none"/>
<path d="M1303,627H1382" stroke="#8c8c8c" stroke-width="7.5" fill="none"/>
<path d="M1303,627H1382" stroke="#000" stroke-width="3.8" fill="none"/>
<path d="M1398,627L1374,614.5L1378.5,627L1374,639.5Z" fill="#000"/>
<text x="258.8" y="1296" font-size="68" text-anchor="middle">1.3</text>
<text x="470.3" y="1296" font-size="68" text-anchor="middle">1.4</text>
<text x="681.8" y="1296" font-size="68" text-anchor="middle">1.5</text>
<text x="893.3" y="1296" font-size="68" text-anchor="middle">1.6</text>
<text x="1104.8" y="1296" font-size="68" text-anchor="middle">1.7</text>
<text x="1316.3" y="1296" font-size="68" text-anchor="middle">1.8</text>
<text x="1527.8" y="1296" font-size="68" text-anchor="middle">1.9</text>
<text x="1715" y="1296" font-size="68" text-anchor="middle">2</text>
<text x="1739" y="1112.8" font-size="68" letter-spacing="2.5">700</text>
<text x="1739" y="878.4" font-size="68" letter-spacing="2.5">720</text>
<text x="1739" y="644.0" font-size="68" letter-spacing="2.5">740</text>
<text x="1739" y="409.6" font-size="68" letter-spacing="2.5">760</text>
<text x="1739" y="175.2" font-size="68" letter-spacing="2.5">780</text>
<text x="113.0" y="1244.2" font-size="68">10</text>
<text x="181.0" y="1209.2" font-size="57"><tspan dy="3.5">-</tspan><tspan dy="-3.5">3</tspan></text>
<text x="113.0" y="983.6" font-size="68">10</text>
<text x="181.0" y="948.6" font-size="57"><tspan dy="3.5">-</tspan><tspan dy="-3.5">2</tspan></text>
<text x="113.0" y="723.0" font-size="68">10</text>
<text x="181.0" y="688.0" font-size="57"><tspan dy="3.5">-</tspan><tspan dy="-3.5">1</tspan></text>
<text x="135.0" y="464.4" font-size="68">10</text>
<text x="203.0" y="428.9" font-size="57">0</text>
<text x="135.0" y="203.8" font-size="68">10</text>
<text x="203.0" y="168.3" font-size="57">1</text>
<text transform="translate(706.22,1391) scale(0.993,1)" font-size="80">Wavelength (</text>
<text transform="translate(1127.7,1395) skewX(-10) scale(1.2,1)" font-size="70.7" style="font-family:'DejaVu Sans',sans-serif;font-weight:200;font-style:normal;fill:#111;stroke:none">μ</text>
<text x="1178.32" y="1391" font-size="80">m)</text>
<text transform="translate(83,620.75) rotate(-90) scale(0.964,1)" font-size="80" text-anchor="middle">Confinement Loss(dB/m)</text>
<g transform="translate(1960.4,1056) rotate(-90)">
<text transform="translate(-2.24,0) scale(0.973,1)" font-size="80">Effective Mode Area (</text>
<text transform="translate(692,5) skewX(-9) scale(1.15,1)" font-size="68" style="font-family:'DejaVu Sans',sans-serif;font-weight:200;font-style:normal;fill:#111;stroke:none">μ</text>
<text transform="translate(753.14,0) scale(0.93,1)" font-size="80">m</text>
<text transform="translate(814.50,-38.9) scale(1.08,1)" font-size="59">2</text>
<text x="845.42" y="0" font-size="80">)</text>
</g>
<text x="527" y="257.5" font-size="74" style="fill:#0033cc">L<tspan dx="-2">P</tspan><tspan font-size="52" dy="14.5" letter-spacing="-3.5">11</tspan></text>
<text x="1142" y="953.5" font-size="74" style="fill:#ff0000">L<tspan dx="-3">P</tspan><tspan font-size="52" dy="14" letter-spacing="-2">01</tspan></text>
</svg></body></html>
